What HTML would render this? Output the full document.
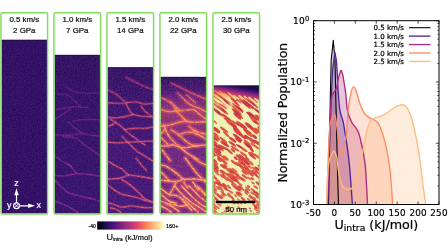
<!DOCTYPE html><html><head><meta charset="utf-8"><title>figure</title>
<style>html,body{margin:0;padding:0;background:#fff;}svg{display:block;}.a{font-family:"Liberation Sans",Arial,sans-serif;fill:#111;stroke:#111;stroke-width:0.22px;}.d{font-family:"DejaVu Sans","Liberation Sans",sans-serif;fill:#000;stroke:#000;stroke-width:0.2px;}</style></head><body>
<svg width="448" height="252" viewBox="0 0 448 252">
<defs>
<filter id="b3" x="-5%" y="-5%" width="110%" height="110%"><feGaussianBlur stdDeviation="0.7"/></filter>
<filter id="sk" x="-5%" y="-5%" width="110%" height="110%"><feGaussianBlur in="SourceGraphic" stdDeviation="0.5" result="b"/><feTurbulence type="fractalNoise" baseFrequency="0.5" numOctaves="2" seed="5" result="t"/><feColorMatrix in="t" type="matrix" values="0 0 0 0 1  0 0 0 0 1  0 0 0 0 1  1 0 0 0 0" result="n"/><feComposite in="b" in2="n" operator="arithmetic" k1="2.0" k2="0.0" k3="0" k4="0"/></filter>
<filter id="b5" x="-5%" y="-5%" width="110%" height="110%"><feGaussianBlur stdDeviation="0.6"/></filter>
<filter id="b7" x="-5%" y="-5%" width="110%" height="110%"><feGaussianBlur stdDeviation="0.7"/></filter>
<filter id="b8" x="-5%" y="-5%" width="110%" height="110%"><feGaussianBlur stdDeviation="0.8"/></filter>
<filter id="nz0" x="0" y="0" width="100%" height="100%"><feTurbulence type="fractalNoise" baseFrequency="0.75" numOctaves="2" seed="3"/><feColorMatrix type="matrix" values="0 0 0 0 0.33  0 0 0 0 0.10  0 0 0 0 0.56  2.0 0 0 0 -0.75"/><feGaussianBlur stdDeviation="0.4"/></filter>
<filter id="nz1" x="0" y="0" width="100%" height="100%"><feTurbulence type="fractalNoise" baseFrequency="0.75" numOctaves="2" seed="4"/><feColorMatrix type="matrix" values="0 0 0 0 0.37  0 0 0 0 0.11  0 0 0 0 0.58  2.0 0 0 0 -0.75"/><feGaussianBlur stdDeviation="0.4"/></filter>
<filter id="nz2" x="0" y="0" width="100%" height="100%"><feTurbulence type="fractalNoise" baseFrequency="0.75" numOctaves="2" seed="5"/><feColorMatrix type="matrix" values="0 0 0 0 0.50  0 0 0 0 0.17  0 0 0 0 0.60  2.0 0 0 0 -0.75"/><feGaussianBlur stdDeviation="0.4"/></filter>
<filter id="nz3" x="0" y="0" width="100%" height="100%"><feTurbulence type="fractalNoise" baseFrequency="0.75" numOctaves="2" seed="6"/><feColorMatrix type="matrix" values="0 0 0 0 0.66  0 0 0 0 0.25  0 0 0 0 0.56  2.0 0 0 0 -0.75"/><feGaussianBlur stdDeviation="0.4"/></filter>
<filter id="nzd" x="0" y="0" width="100%" height="100%"><feTurbulence type="fractalNoise" baseFrequency="0.8" numOctaves="2" seed="11"/><feColorMatrix type="matrix" values="0 0 0 0 0.08  0 0 0 0 0.02  0 0 0 0 0.22  0 2.0 0 0 -0.75"/><feGaussianBlur stdDeviation="0.4"/></filter>
<linearGradient id="mg" x1="0" x2="1" y1="0" y2="0"><stop offset="0.00" stop-color="#000003"/><stop offset="0.05" stop-color="#060519"/><stop offset="0.10" stop-color="#140d35"/><stop offset="0.15" stop-color="#251155"/><stop offset="0.20" stop-color="#3b0f6f"/><stop offset="0.25" stop-color="#50127b"/><stop offset="0.30" stop-color="#63197f"/><stop offset="0.35" stop-color="#772181"/><stop offset="0.40" stop-color="#8c2980"/><stop offset="0.45" stop-color="#a12f7e"/><stop offset="0.50" stop-color="#b63679"/><stop offset="0.55" stop-color="#ca3e72"/><stop offset="0.60" stop-color="#dd4968"/><stop offset="0.65" stop-color="#ed595f"/><stop offset="0.70" stop-color="#f6705b"/><stop offset="0.75" stop-color="#fb8861"/><stop offset="0.80" stop-color="#fd9f6c"/><stop offset="0.85" stop-color="#feb77d"/><stop offset="0.90" stop-color="#fdcf92"/><stop offset="0.95" stop-color="#fce6a8"/><stop offset="1.00" stop-color="#fbfcbf"/></linearGradient>
<linearGradient id="g2" x1="0" x2="0" y1="0" y2="1"><stop offset="0" stop-color="#2a0d5a"/><stop offset="1" stop-color="#301066"/></linearGradient>
<linearGradient id="g3" x1="0" x2="0" y1="0" y2="1"><stop offset="0" stop-color="#2a0d5a"/><stop offset="0.3" stop-color="#36106a"/><stop offset="1" stop-color="#401474"/></linearGradient>
<linearGradient id="g4" x1="0" x2="0" y1="0" y2="1"><stop offset="0" stop-color="#250e50"/><stop offset="0.095" stop-color="#43146e"/><stop offset="0.17" stop-color="#742678"/><stop offset="0.256" stop-color="#9c386e"/><stop offset="0.387" stop-color="#8a3074"/><stop offset="0.53" stop-color="#70267e"/><stop offset="1" stop-color="#7c2a7c"/></linearGradient>
<linearGradient id="g5" gradientUnits="userSpaceOnUse" x1="237" y1="85.5" x2="234.6" y2="98" ><stop offset="0" stop-color="#1d0c48"/><stop offset="0.18" stop-color="#35106a"/><stop offset="0.42" stop-color="#7a2282"/><stop offset="0.68" stop-color="#c03a6c"/><stop offset="1" stop-color="#d6443e"/></linearGradient>
<clipPath id="c1"><rect x="1.45" y="0" width="45.6" height="213.6"/></clipPath>
<clipPath id="c2"><rect x="54.45" y="0" width="45.6" height="213.6"/></clipPath>
<clipPath id="c3"><rect x="107.45" y="0" width="45.6" height="213.6"/></clipPath>
<clipPath id="c4"><rect x="160.45" y="0" width="45.6" height="213.6"/></clipPath>
<clipPath id="c5"><rect x="213.45" y="0" width="45.6" height="213.6"/></clipPath>
<linearGradient id="g5b" x1="0" x2="0" y1="0" y2="1"><stop offset="0" stop-color="#eef0b4" stop-opacity="0"/><stop offset="1" stop-color="#eef0b4"/></linearGradient>
<linearGradient id="s4" gradientUnits="userSpaceOnUse" x1="0" y1="78" x2="0" y2="214"><stop offset="0" stop-color="#a83078"/><stop offset="0.1" stop-color="#d04a6c"/><stop offset="0.2" stop-color="#f0845a"/><stop offset="0.5" stop-color="#f6965e"/><stop offset="1" stop-color="#f8a664"/></linearGradient>
<linearGradient id="s5" gradientUnits="userSpaceOnUse" x1="0" y1="89" x2="0" y2="108"><stop offset="0" stop-color="#d84a6a" stop-opacity="0.5"/><stop offset="0.22" stop-color="#f49a5e"/><stop offset="0.5" stop-color="#f6dc90"/><stop offset="0.8" stop-color="#f0efb0"/><stop offset="1" stop-color="#eef0b4"/></linearGradient>
<linearGradient id="s4g" gradientUnits="userSpaceOnUse" x1="0" y1="78" x2="0" y2="214"><stop offset="0" stop-color="#c04078" stop-opacity="0.25"/><stop offset="0.15" stop-color="#d84c6e" stop-opacity="0.55"/><stop offset="0.3" stop-color="#e4566a" stop-opacity="1"/><stop offset="1" stop-color="#e4566a" stop-opacity="1"/></linearGradient>
<linearGradient id="s3" gradientUnits="userSpaceOnUse" x1="0" y1="67" x2="0" y2="214"><stop offset="0" stop-color="#8a2a82"/><stop offset="0.12" stop-color="#a8347c"/><stop offset="0.3" stop-color="#cc5070"/><stop offset="1" stop-color="#dc5e6c"/></linearGradient>
<linearGradient id="s2" gradientUnits="userSpaceOnUse" x1="0" y1="55" x2="0" y2="214"><stop offset="0" stop-color="#6a2090" stop-opacity="0.5"/><stop offset="0.35" stop-color="#80288e" stop-opacity="0.8"/><stop offset="1" stop-color="#9a308c" stop-opacity="1"/></linearGradient>
</defs>
<rect width="448" height="252" fill="#fff"/>
<g clip-path="url(#c1)">
<rect x="1.4" y="39.8" width="46.2" height="174.2" fill="#280b5b"/>
<rect x="1.4" y="40.8" width="46.2" height="173.2" filter="url(#nz0)" opacity="0.22"/>
<rect x="1.4" y="40.8" width="46.2" height="173.2" filter="url(#nzd)" opacity="0.6"/>
<rect x="1.4" y="39.8" width="46.2" height="0.8" fill="#120830" opacity="0.7"/>
</g>
<rect x="0.95" y="12.7" width="46.65" height="201.4" rx="1.5" fill="none" stroke="#82dc5c" stroke-width="1.45"/>
<text class="a" x="24.3" y="21.8" font-size="7.9" text-anchor="middle">0.5 km/s</text>
<text class="a" x="24.3" y="32.5" font-size="7.9" text-anchor="middle">2 GPa</text>
<g clip-path="url(#c2)">
<rect x="54.5" y="54.9" width="46.2" height="159.1" fill="url(#g2)"/>
<rect x="54.5" y="55.9" width="46.2" height="158.1" filter="url(#nz1)" opacity="0.25"/>
<rect x="54.5" y="55.9" width="46.2" height="158.1" filter="url(#nzd)" opacity="0.6"/>
<g filter="url(#sk)"><path d="M62.70,85.10 C64.82,86.27 71.80,90.83 75.40,92.10 C79.00,93.37 80.28,92.50 84.30,92.70 C88.32,92.90 96.97,93.20 99.50,93.30" fill="none" stroke="url(#s2)" stroke-width="1.50" stroke-opacity="0.75" stroke-linecap="round"/><path d="M57.60,94.00 C59.30,94.20 64.83,93.93 67.80,95.20 C70.77,96.47 73.28,99.68 75.40,101.60 C77.52,103.52 78.40,105.75 80.50,106.70 C82.60,107.65 86.75,107.20 88.00,107.30" fill="none" stroke="url(#s2)" stroke-width="1.50" stroke-opacity="0.75" stroke-linecap="round"/><path d="M56.30,109.80 C58.42,109.38 64.97,107.82 69.00,107.30 C73.03,106.78 78.58,106.80 80.50,106.70" fill="none" stroke="url(#s2)" stroke-width="1.50" stroke-opacity="0.75" stroke-linecap="round"/><path d="M55.00,118.80 C56.28,118.05 60.15,115.88 62.70,114.30 C65.25,112.72 69.03,110.13 70.30,109.30" fill="none" stroke="url(#s2)" stroke-width="1.50" stroke-opacity="0.75" stroke-linecap="round"/><path d="M72.90,120.70 C75.02,120.48 81.17,119.52 85.60,119.40 C90.03,119.28 97.18,119.90 99.50,120.00" fill="none" stroke="url(#s2)" stroke-width="1.50" stroke-opacity="0.75" stroke-linecap="round"/><path d="M67.80,122.00 C69.07,123.05 72.87,126.40 75.40,128.30 C77.93,130.20 80.25,132.23 83.00,133.40 C85.75,134.57 89.15,134.87 91.90,135.30 C94.65,135.73 98.23,135.88 99.50,136.00" fill="none" stroke="url(#s2)" stroke-width="1.50" stroke-opacity="0.75" stroke-linecap="round"/><path d="M55.00,134.70 C57.33,134.80 64.33,135.52 69.00,135.30 C73.67,135.08 80.67,133.72 83.00,133.40" fill="none" stroke="url(#s2)" stroke-width="1.50" stroke-opacity="0.75" stroke-linecap="round"/><path d="M62.70,136.60 C64.82,136.82 72.02,136.73 75.40,137.90 C78.78,139.07 80.25,141.58 83.00,143.60 C85.75,145.62 89.15,148.10 91.90,150.00 C94.65,151.90 98.23,154.17 99.50,155.00" fill="none" stroke="url(#s2)" stroke-width="1.50" stroke-opacity="0.75" stroke-linecap="round"/><path d="M55.00,155.70 C56.28,156.65 59.93,159.60 62.70,161.40 C65.47,163.20 70.12,165.65 71.60,166.50" fill="none" stroke="url(#s2)" stroke-width="1.50" stroke-opacity="0.75" stroke-linecap="round"/><path d="M67.80,164.00 C68.65,164.83 71.32,167.42 72.90,169.00 C74.48,170.58 74.77,172.63 77.30,173.50 C79.83,174.37 84.40,173.78 88.10,174.20 C91.80,174.62 97.60,175.70 99.50,176.00" fill="none" stroke="url(#s2)" stroke-width="1.50" stroke-opacity="0.75" stroke-linecap="round"/><path d="M55.00,175.40 C56.50,175.50 60.28,176.32 64.00,176.00 C67.72,175.68 75.08,173.92 77.30,173.50" fill="none" stroke="url(#s2)" stroke-width="1.50" stroke-opacity="0.75" stroke-linecap="round"/><path d="M55.00,180.50 C56.28,181.75 60.37,185.92 62.70,188.00 C65.03,190.08 65.83,191.62 69.00,193.00 C72.17,194.38 77.88,195.33 81.70,196.30 C85.52,197.27 88.93,197.97 91.90,198.80 C94.87,199.63 98.23,200.88 99.50,201.30" fill="none" stroke="url(#s2)" stroke-width="1.50" stroke-opacity="0.75" stroke-linecap="round"/><path d="M55.00,201.30 C56.28,201.73 59.93,202.73 62.70,203.90 C65.47,205.07 69.05,206.82 71.60,208.30 C74.15,209.78 76.93,212.05 78.00,212.80" fill="none" stroke="url(#s2)" stroke-width="1.50" stroke-opacity="0.75" stroke-linecap="round"/></g>
<rect x="54.5" y="54.9" width="46.2" height="0.8" fill="#120830" opacity="0.7"/>
</g>
<rect x="53.95" y="12.7" width="46.65" height="201.4" rx="1.5" fill="none" stroke="#82dc5c" stroke-width="1.45"/>
<text class="a" x="77.3" y="21.8" font-size="7.9" text-anchor="middle">1.0 km/s</text>
<text class="a" x="77.3" y="32.5" font-size="7.9" text-anchor="middle">7 GPa</text>
<g clip-path="url(#c3)">
<rect x="107.5" y="67.3" width="46.2" height="146.7" fill="url(#g3)"/>
<rect x="107.5" y="68.3" width="46.2" height="145.7" filter="url(#nz2)" opacity="0.30"/>
<rect x="107.5" y="68.3" width="46.2" height="145.7" filter="url(#nzd)" opacity="0.6"/>
<g filter="url(#b5)"><path d="M125.90,77.30 C127.37,78.05 131.75,80.32 134.70,81.80 C137.65,83.28 140.63,84.93 143.60,86.20 C146.57,87.47 151.02,88.87 152.50,89.40" fill="none" stroke="#a03080" stroke-width="3.20" stroke-opacity="0.30" stroke-linecap="round"/><path d="M108.00,90.00 C109.07,90.53 112.48,92.03 114.40,93.20 C116.32,94.37 117.70,95.50 119.50,97.00 C121.30,98.50 123.72,100.28 125.20,102.20 C126.68,104.12 127.13,106.50 128.40,108.50 C129.67,110.50 130.68,112.93 132.80,114.20 C134.92,115.47 137.82,115.67 141.10,116.10 C144.38,116.53 150.60,116.68 152.50,116.80" fill="none" stroke="#a03080" stroke-width="3.20" stroke-opacity="0.30" stroke-linecap="round"/><path d="M108.00,102.80 C109.70,102.90 115.33,103.40 118.20,103.40 C121.07,103.40 122.23,103.05 125.20,102.80 C128.17,102.55 132.93,101.70 136.00,101.90 C139.07,102.10 140.85,103.75 143.60,104.00 C146.35,104.25 151.02,103.50 152.50,103.40" fill="none" stroke="#a03080" stroke-width="3.20" stroke-opacity="0.30" stroke-linecap="round"/><path d="M141.10,106.60 C141.95,107.55 144.30,110.60 146.20,112.30 C148.10,114.00 151.45,116.05 152.50,116.80" fill="none" stroke="#a03080" stroke-width="3.20" stroke-opacity="0.30" stroke-linecap="round"/><path d="M108.00,117.40 C109.28,117.50 112.93,118.10 115.70,118.00 C118.47,117.90 121.75,117.37 124.60,116.80 C127.45,116.23 131.43,114.97 132.80,114.60" fill="none" stroke="#a03080" stroke-width="3.20" stroke-opacity="0.30" stroke-linecap="round"/><path d="M110.60,119.30 C111.45,119.83 114.22,121.55 115.70,122.50 C117.18,123.45 118.02,123.83 119.50,125.00 C120.98,126.17 122.90,128.00 124.60,129.50 C126.30,131.00 128.02,132.62 129.70,134.00 C131.38,135.38 133.02,136.53 134.70,137.80 C136.38,139.07 138.10,140.43 139.80,141.60 C141.50,142.77 144.05,144.27 144.90,144.80" fill="none" stroke="#a03080" stroke-width="3.20" stroke-opacity="0.30" stroke-linecap="round"/><path d="M108.00,126.30 C108.87,125.98 111.92,125.12 113.20,124.40 C114.48,123.68 115.28,122.40 115.70,122.00" fill="none" stroke="#a03080" stroke-width="3.20" stroke-opacity="0.30" stroke-linecap="round"/><path d="M124.60,129.50 C126.28,129.30 131.32,128.50 134.70,128.30 C138.08,128.10 141.93,128.52 144.90,128.30 C147.87,128.08 151.23,127.22 152.50,127.00" fill="none" stroke="#a03080" stroke-width="3.20" stroke-opacity="0.30" stroke-linecap="round"/><path d="M108.00,142.20 C109.70,142.32 114.80,142.90 118.20,142.90 C121.60,142.90 124.80,142.42 128.40,142.20 C132.00,141.98 135.78,141.80 139.80,141.60 C143.82,141.40 150.38,141.10 152.50,141.00" fill="none" stroke="#a03080" stroke-width="3.20" stroke-opacity="0.30" stroke-linecap="round"/><path d="M122.00,136.50 C122.85,137.35 125.40,139.90 127.10,141.60 C128.80,143.30 130.50,145.02 132.20,146.70 C133.90,148.38 136.03,150.65 137.30,151.70 C138.57,152.75 138.32,152.13 139.80,153.00 C141.28,153.87 144.08,155.62 146.20,156.90 C148.32,158.18 151.45,160.07 152.50,160.70" fill="none" stroke="#a03080" stroke-width="3.20" stroke-opacity="0.30" stroke-linecap="round"/><path d="M108.00,161.30 C109.07,161.93 112.07,163.82 114.40,165.10 C116.73,166.38 119.67,167.40 122.00,169.00 C124.33,170.60 126.07,173.55 128.40,174.70 C130.73,175.85 133.25,175.48 136.00,175.90 C138.75,176.32 142.15,176.77 144.90,177.20 C147.65,177.63 151.23,178.28 152.50,178.50" fill="none" stroke="#a03080" stroke-width="3.20" stroke-opacity="0.30" stroke-linecap="round"/><path d="M136.00,158.20 C136.85,159.25 139.40,162.50 141.10,164.50 C142.80,166.50 145.35,169.25 146.20,170.20" fill="none" stroke="#a03080" stroke-width="3.20" stroke-opacity="0.30" stroke-linecap="round"/><path d="M108.00,179.00 C109.70,178.92 114.80,179.12 118.20,178.50 C121.60,177.88 126.70,175.83 128.40,175.30" fill="none" stroke="#a03080" stroke-width="3.20" stroke-opacity="0.30" stroke-linecap="round"/><path d="M122.00,179.80 C123.07,180.43 126.07,181.90 128.40,183.60 C130.73,185.30 133.88,188.10 136.00,190.00 C138.12,191.90 139.62,193.52 141.10,195.00 C142.58,196.48 143.00,197.73 144.90,198.90 C146.80,200.07 151.23,201.48 152.50,202.00" fill="none" stroke="#a03080" stroke-width="3.20" stroke-opacity="0.30" stroke-linecap="round"/><path d="M108.00,184.90 C109.07,185.75 112.27,188.52 114.40,190.00 C116.53,191.48 118.47,192.85 120.80,193.80 C123.13,194.75 125.65,195.05 128.40,195.70 C131.15,196.35 134.55,196.93 137.30,197.70 C140.05,198.47 142.37,199.55 144.90,200.30 C147.43,201.05 151.23,201.88 152.50,202.20" fill="none" stroke="#a03080" stroke-width="3.20" stroke-opacity="0.30" stroke-linecap="round"/><path d="M108.00,202.80 C109.07,203.12 112.07,203.97 114.40,204.70 C116.73,205.43 119.23,206.98 122.00,207.20 C124.77,207.42 127.82,206.00 131.00,206.00 C134.18,206.00 137.52,206.88 141.10,207.20 C144.68,207.52 150.60,207.78 152.50,207.90" fill="none" stroke="#a03080" stroke-width="3.20" stroke-opacity="0.30" stroke-linecap="round"/><path d="M110.60,207.90 C111.45,208.10 114.00,208.37 115.70,209.10 C117.40,209.83 119.95,211.77 120.80,212.30" fill="none" stroke="#a03080" stroke-width="3.20" stroke-opacity="0.30" stroke-linecap="round"/></g>
<g filter="url(#sk)"><path d="M125.90,77.30 C127.37,78.05 131.75,80.32 134.70,81.80 C137.65,83.28 140.63,84.93 143.60,86.20 C146.57,87.47 151.02,88.87 152.50,89.40" fill="none" stroke="url(#s3)" stroke-width="1.40" stroke-opacity="0.80" stroke-linecap="round"/><path d="M108.00,90.00 C109.07,90.53 112.48,92.03 114.40,93.20 C116.32,94.37 117.70,95.50 119.50,97.00 C121.30,98.50 123.72,100.28 125.20,102.20 C126.68,104.12 127.13,106.50 128.40,108.50 C129.67,110.50 130.68,112.93 132.80,114.20 C134.92,115.47 137.82,115.67 141.10,116.10 C144.38,116.53 150.60,116.68 152.50,116.80" fill="none" stroke="url(#s3)" stroke-width="1.40" stroke-opacity="0.80" stroke-linecap="round"/><path d="M108.00,102.80 C109.70,102.90 115.33,103.40 118.20,103.40 C121.07,103.40 122.23,103.05 125.20,102.80 C128.17,102.55 132.93,101.70 136.00,101.90 C139.07,102.10 140.85,103.75 143.60,104.00 C146.35,104.25 151.02,103.50 152.50,103.40" fill="none" stroke="url(#s3)" stroke-width="1.40" stroke-opacity="0.80" stroke-linecap="round"/><path d="M141.10,106.60 C141.95,107.55 144.30,110.60 146.20,112.30 C148.10,114.00 151.45,116.05 152.50,116.80" fill="none" stroke="url(#s3)" stroke-width="1.40" stroke-opacity="0.80" stroke-linecap="round"/><path d="M108.00,117.40 C109.28,117.50 112.93,118.10 115.70,118.00 C118.47,117.90 121.75,117.37 124.60,116.80 C127.45,116.23 131.43,114.97 132.80,114.60" fill="none" stroke="url(#s3)" stroke-width="1.40" stroke-opacity="0.80" stroke-linecap="round"/><path d="M110.60,119.30 C111.45,119.83 114.22,121.55 115.70,122.50 C117.18,123.45 118.02,123.83 119.50,125.00 C120.98,126.17 122.90,128.00 124.60,129.50 C126.30,131.00 128.02,132.62 129.70,134.00 C131.38,135.38 133.02,136.53 134.70,137.80 C136.38,139.07 138.10,140.43 139.80,141.60 C141.50,142.77 144.05,144.27 144.90,144.80" fill="none" stroke="url(#s3)" stroke-width="1.40" stroke-opacity="0.80" stroke-linecap="round"/><path d="M108.00,126.30 C108.87,125.98 111.92,125.12 113.20,124.40 C114.48,123.68 115.28,122.40 115.70,122.00" fill="none" stroke="url(#s3)" stroke-width="1.40" stroke-opacity="0.80" stroke-linecap="round"/><path d="M124.60,129.50 C126.28,129.30 131.32,128.50 134.70,128.30 C138.08,128.10 141.93,128.52 144.90,128.30 C147.87,128.08 151.23,127.22 152.50,127.00" fill="none" stroke="url(#s3)" stroke-width="1.40" stroke-opacity="0.80" stroke-linecap="round"/><path d="M108.00,142.20 C109.70,142.32 114.80,142.90 118.20,142.90 C121.60,142.90 124.80,142.42 128.40,142.20 C132.00,141.98 135.78,141.80 139.80,141.60 C143.82,141.40 150.38,141.10 152.50,141.00" fill="none" stroke="url(#s3)" stroke-width="1.40" stroke-opacity="0.80" stroke-linecap="round"/><path d="M122.00,136.50 C122.85,137.35 125.40,139.90 127.10,141.60 C128.80,143.30 130.50,145.02 132.20,146.70 C133.90,148.38 136.03,150.65 137.30,151.70 C138.57,152.75 138.32,152.13 139.80,153.00 C141.28,153.87 144.08,155.62 146.20,156.90 C148.32,158.18 151.45,160.07 152.50,160.70" fill="none" stroke="url(#s3)" stroke-width="1.40" stroke-opacity="0.80" stroke-linecap="round"/><path d="M108.00,161.30 C109.07,161.93 112.07,163.82 114.40,165.10 C116.73,166.38 119.67,167.40 122.00,169.00 C124.33,170.60 126.07,173.55 128.40,174.70 C130.73,175.85 133.25,175.48 136.00,175.90 C138.75,176.32 142.15,176.77 144.90,177.20 C147.65,177.63 151.23,178.28 152.50,178.50" fill="none" stroke="url(#s3)" stroke-width="1.40" stroke-opacity="0.80" stroke-linecap="round"/><path d="M136.00,158.20 C136.85,159.25 139.40,162.50 141.10,164.50 C142.80,166.50 145.35,169.25 146.20,170.20" fill="none" stroke="url(#s3)" stroke-width="1.40" stroke-opacity="0.80" stroke-linecap="round"/><path d="M108.00,179.00 C109.70,178.92 114.80,179.12 118.20,178.50 C121.60,177.88 126.70,175.83 128.40,175.30" fill="none" stroke="url(#s3)" stroke-width="1.40" stroke-opacity="0.80" stroke-linecap="round"/><path d="M122.00,179.80 C123.07,180.43 126.07,181.90 128.40,183.60 C130.73,185.30 133.88,188.10 136.00,190.00 C138.12,191.90 139.62,193.52 141.10,195.00 C142.58,196.48 143.00,197.73 144.90,198.90 C146.80,200.07 151.23,201.48 152.50,202.00" fill="none" stroke="url(#s3)" stroke-width="1.40" stroke-opacity="0.80" stroke-linecap="round"/><path d="M108.00,184.90 C109.07,185.75 112.27,188.52 114.40,190.00 C116.53,191.48 118.47,192.85 120.80,193.80 C123.13,194.75 125.65,195.05 128.40,195.70 C131.15,196.35 134.55,196.93 137.30,197.70 C140.05,198.47 142.37,199.55 144.90,200.30 C147.43,201.05 151.23,201.88 152.50,202.20" fill="none" stroke="url(#s3)" stroke-width="1.40" stroke-opacity="0.80" stroke-linecap="round"/><path d="M108.00,202.80 C109.07,203.12 112.07,203.97 114.40,204.70 C116.73,205.43 119.23,206.98 122.00,207.20 C124.77,207.42 127.82,206.00 131.00,206.00 C134.18,206.00 137.52,206.88 141.10,207.20 C144.68,207.52 150.60,207.78 152.50,207.90" fill="none" stroke="url(#s3)" stroke-width="1.40" stroke-opacity="0.80" stroke-linecap="round"/><path d="M110.60,207.90 C111.45,208.10 114.00,208.37 115.70,209.10 C117.40,209.83 119.95,211.77 120.80,212.30" fill="none" stroke="url(#s3)" stroke-width="1.40" stroke-opacity="0.80" stroke-linecap="round"/></g>
<rect x="107.5" y="67.3" width="46.2" height="0.8" fill="#120830" opacity="0.7"/>
</g>
<rect x="106.95" y="12.7" width="46.65" height="201.4" rx="1.5" fill="none" stroke="#82dc5c" stroke-width="1.45"/>
<text class="a" x="130.3" y="21.8" font-size="7.9" text-anchor="middle">1.5 km/s</text>
<text class="a" x="130.3" y="32.5" font-size="7.9" text-anchor="middle">14 GPa</text>
<g clip-path="url(#c4)">
<rect x="160.4" y="76.9" width="46.2" height="137.1" fill="url(#g4)"/>
<rect x="160.4" y="77.9" width="46.2" height="136.1" filter="url(#nz3)" opacity="0.30"/>
<rect x="160.4" y="77.9" width="46.2" height="136.1" filter="url(#nzd)" opacity="0.6"/>
<g filter="url(#b5)"><path d="M171.20,82.90 C172.90,83.75 178.00,86.32 181.40,88.00 C184.80,89.68 188.63,91.63 191.60,93.00 C194.57,94.37 196.88,95.23 199.20,96.20 C201.52,97.17 204.45,98.37 205.50,98.80" fill="none" stroke="url(#s4g)" stroke-width="5.00" stroke-opacity="0.45" stroke-linecap="round"/><path d="M177.60,93.00 C178.45,93.85 181.02,96.50 182.70,98.10 C184.38,99.70 186.87,101.85 187.70,102.60" fill="none" stroke="url(#s4g)" stroke-width="5.00" stroke-opacity="0.45" stroke-linecap="round"/><path d="M186.50,95.00 C187.35,95.73 190.12,98.13 191.60,99.40 C193.08,100.67 194.77,102.07 195.40,102.60" fill="none" stroke="url(#s4g)" stroke-width="5.00" stroke-opacity="0.45" stroke-linecap="round"/><path d="M161.00,97.50 C161.87,97.92 164.28,98.95 166.20,100.00 C168.12,101.05 170.82,101.98 172.50,103.80 C174.18,105.62 174.82,108.87 176.30,110.90 C177.78,112.93 179.70,114.32 181.40,116.00 C183.10,117.68 184.38,119.95 186.50,121.00 C188.62,122.05 190.93,122.18 194.10,122.30 C197.27,122.42 203.60,121.80 205.50,121.70" fill="none" stroke="url(#s4g)" stroke-width="5.00" stroke-opacity="0.45" stroke-linecap="round"/><path d="M161.00,109.60 C162.28,109.92 166.15,111.25 168.70,111.50 C171.25,111.75 173.55,111.30 176.30,111.10 C179.05,110.90 182.45,110.55 185.20,110.30 C187.95,110.05 190.68,109.18 192.80,109.60 C194.92,110.02 195.78,111.32 197.90,112.80 C200.02,114.28 204.23,117.55 205.50,118.50" fill="none" stroke="url(#s4g)" stroke-width="5.00" stroke-opacity="0.45" stroke-linecap="round"/><path d="M170.00,102.00 C170.83,102.73 173.52,105.13 175.00,106.40 C176.48,107.67 178.25,109.07 178.90,109.60" fill="none" stroke="url(#s4g)" stroke-width="5.00" stroke-opacity="0.45" stroke-linecap="round"/><path d="M186.50,102.00 C187.55,102.63 190.68,104.75 192.80,105.80 C194.92,106.85 197.08,107.35 199.20,108.30 C201.32,109.25 204.45,110.97 205.50,111.50" fill="none" stroke="url(#s4g)" stroke-width="5.00" stroke-opacity="0.45" stroke-linecap="round"/><path d="M161.00,126.10 C161.87,126.00 164.28,125.82 166.20,125.50 C168.12,125.18 170.38,124.73 172.50,124.20 C174.62,123.67 176.57,122.83 178.90,122.30 C181.23,121.77 185.23,121.22 186.50,121.00" fill="none" stroke="url(#s4g)" stroke-width="5.00" stroke-opacity="0.45" stroke-linecap="round"/><path d="M163.60,124.90 C164.03,125.97 165.13,129.18 166.20,131.30 C167.27,133.42 168.53,135.70 170.00,137.60 C171.47,139.50 173.32,141.12 175.00,142.70 C176.68,144.28 178.40,145.62 180.10,147.10 C181.80,148.58 183.28,150.12 185.20,151.60 C187.12,153.08 189.48,154.63 191.60,156.00 C193.72,157.37 196.85,159.17 197.90,159.80" fill="none" stroke="url(#s4g)" stroke-width="5.00" stroke-opacity="0.45" stroke-linecap="round"/><path d="M161.00,133.70 C161.65,132.97 164.25,130.03 164.90,129.30" fill="none" stroke="url(#s4g)" stroke-width="5.00" stroke-opacity="0.45" stroke-linecap="round"/><path d="M189.00,126.10 C189.85,126.95 192.83,129.93 194.10,131.20 C195.37,132.47 196.18,133.28 196.60,133.70" fill="none" stroke="url(#s4g)" stroke-width="5.00" stroke-opacity="0.45" stroke-linecap="round"/><path d="M171.20,130.00 C172.27,130.63 175.68,132.42 177.60,133.80 C179.52,135.18 181.02,136.82 182.70,138.30 C184.38,139.78 186.02,141.55 187.70,142.70 C189.38,143.85 191.10,144.67 192.80,145.20 C194.50,145.73 197.05,145.78 197.90,145.90" fill="none" stroke="url(#s4g)" stroke-width="5.00" stroke-opacity="0.45" stroke-linecap="round"/><path d="M178.90,135.00 C179.95,134.58 182.88,132.92 185.20,132.50 C187.52,132.08 190.47,132.08 192.80,132.50 C195.13,132.92 197.08,133.93 199.20,135.00 C201.32,136.07 204.45,138.25 205.50,138.90" fill="none" stroke="url(#s4g)" stroke-width="5.00" stroke-opacity="0.45" stroke-linecap="round"/><path d="M161.00,145.90 C162.07,145.90 165.48,146.05 167.40,145.90 C169.32,145.75 170.38,144.80 172.50,145.00 C174.62,145.20 177.77,146.63 180.10,147.10 C182.43,147.57 184.17,148.00 186.50,147.80 C188.83,147.60 190.93,146.33 194.10,145.90 C197.27,145.47 203.60,145.32 205.50,145.20" fill="none" stroke="url(#s4g)" stroke-width="5.00" stroke-opacity="0.45" stroke-linecap="round"/><path d="M161.00,137.60 C161.65,138.23 163.62,140.13 164.90,141.40 C166.18,142.67 168.07,144.57 168.70,145.20" fill="none" stroke="url(#s4g)" stroke-width="5.00" stroke-opacity="0.45" stroke-linecap="round"/><path d="M162.30,150.30 C162.95,151.15 164.92,153.70 166.20,155.40 C167.48,157.10 169.37,159.65 170.00,160.50" fill="none" stroke="url(#s4g)" stroke-width="5.00" stroke-opacity="0.45" stroke-linecap="round"/><path d="M194.00,130.00 C194.83,130.42 197.08,131.83 199.00,132.50 C200.92,133.17 204.42,133.75 205.50,134.00" fill="none" stroke="url(#s4g)" stroke-width="5.00" stroke-opacity="0.45" stroke-linecap="round"/><path d="M185.20,158.00 C185.83,158.83 187.73,161.30 189.00,163.00 C190.27,164.70 191.53,166.50 192.80,168.20 C194.07,169.90 195.33,171.73 196.60,173.20 C197.87,174.67 198.92,175.53 200.40,177.00 C201.88,178.47 204.65,181.17 205.50,182.00" fill="none" stroke="url(#s4g)" stroke-width="5.00" stroke-opacity="0.45" stroke-linecap="round"/><path d="M194.10,158.00 C194.95,158.63 197.30,160.63 199.20,161.80 C201.10,162.97 204.45,164.47 205.50,165.00" fill="none" stroke="url(#s4g)" stroke-width="5.00" stroke-opacity="0.45" stroke-linecap="round"/><path d="M161.00,165.00 C161.87,165.22 164.50,165.57 166.20,166.30 C167.90,167.03 169.52,168.25 171.20,169.40 C172.88,170.55 174.60,171.82 176.30,173.20 C178.00,174.58 180.12,176.63 181.40,177.70 C182.68,178.77 183.57,179.28 184.00,179.60" fill="none" stroke="url(#s4g)" stroke-width="5.00" stroke-opacity="0.45" stroke-linecap="round"/><path d="M161.00,180.20 C162.28,180.32 166.15,180.68 168.70,180.90 C171.25,181.12 173.75,181.72 176.30,181.50 C178.85,181.28 181.25,180.02 184.00,179.60 C186.75,179.18 190.27,179.00 192.80,179.00 C195.33,179.00 197.08,179.40 199.20,179.60 C201.32,179.80 204.45,180.10 205.50,180.20" fill="none" stroke="url(#s4g)" stroke-width="5.00" stroke-opacity="0.45" stroke-linecap="round"/><path d="M176.30,181.50 C175.88,182.45 174.65,185.50 173.80,187.20 C172.95,188.90 171.83,190.42 171.20,191.70 C170.57,192.98 170.20,194.37 170.00,194.90" fill="none" stroke="url(#s4g)" stroke-width="5.00" stroke-opacity="0.45" stroke-linecap="round"/><path d="M184.00,182.80 C184.62,183.63 187.08,186.97 187.70,187.80" fill="none" stroke="url(#s4g)" stroke-width="5.00" stroke-opacity="0.45" stroke-linecap="round"/><path d="M192.80,182.00 C193.65,183.28 197.05,188.42 197.90,189.70" fill="none" stroke="url(#s4g)" stroke-width="5.00" stroke-opacity="0.45" stroke-linecap="round"/><path d="M161.00,188.50 C161.65,189.03 163.40,190.63 164.90,191.70 C166.40,192.77 168.10,194.27 170.00,194.90 C171.90,195.53 174.40,194.87 176.30,195.50 C178.20,196.13 179.70,197.12 181.40,198.70 C183.10,200.28 184.80,203.12 186.50,205.00 C188.20,206.88 190.75,209.17 191.60,210.00" fill="none" stroke="url(#s4g)" stroke-width="5.00" stroke-opacity="0.45" stroke-linecap="round"/><path d="M175.00,186.00 C175.85,187.05 178.40,190.40 180.10,192.30 C181.80,194.20 183.28,195.70 185.20,197.40 C187.12,199.10 189.48,201.02 191.60,202.50 C193.72,203.98 195.58,204.82 197.90,206.30 C200.22,207.78 204.23,210.55 205.50,211.40" fill="none" stroke="url(#s4g)" stroke-width="5.00" stroke-opacity="0.45" stroke-linecap="round"/><path d="M181.40,186.00 C182.45,187.05 185.58,190.18 187.70,192.30 C189.82,194.42 191.98,196.78 194.10,198.70 C196.22,200.62 198.50,202.42 200.40,203.80 C202.30,205.18 204.65,206.47 205.50,207.00" fill="none" stroke="url(#s4g)" stroke-width="5.00" stroke-opacity="0.45" stroke-linecap="round"/><path d="M189.00,186.00 C190.07,187.05 193.50,190.40 195.40,192.30 C197.30,194.20 198.72,195.92 200.40,197.40 C202.08,198.88 204.65,200.57 205.50,201.20" fill="none" stroke="url(#s4g)" stroke-width="5.00" stroke-opacity="0.45" stroke-linecap="round"/><path d="M196.60,186.00 C197.45,186.83 200.22,189.52 201.70,191.00 C203.18,192.48 204.87,194.25 205.50,194.90" fill="none" stroke="url(#s4g)" stroke-width="5.00" stroke-opacity="0.45" stroke-linecap="round"/><path d="M161.00,201.20 C162.07,201.63 165.27,202.73 167.40,203.80 C169.53,204.87 171.88,206.33 173.80,207.60 C175.72,208.87 178.05,210.77 178.90,211.40" fill="none" stroke="url(#s4g)" stroke-width="5.00" stroke-opacity="0.45" stroke-linecap="round"/><path d="M161.00,206.00 C161.83,206.42 164.33,207.50 166.00,208.50 C167.67,209.50 170.17,211.42 171.00,212.00" fill="none" stroke="url(#s4g)" stroke-width="5.00" stroke-opacity="0.45" stroke-linecap="round"/><path d="M167.40,203.80 C168.67,204.00 172.67,204.58 175.00,205.00 C177.33,205.42 179.28,206.30 181.40,206.30 C183.52,206.30 186.65,205.22 187.70,205.00" fill="none" stroke="url(#s4g)" stroke-width="5.00" stroke-opacity="0.45" stroke-linecap="round"/><path d="M161.00,194.00 C161.67,194.67 163.50,196.75 165.00,198.00 C166.50,199.25 168.17,200.67 170.00,201.50 C171.83,202.33 175.00,202.75 176.00,203.00" fill="none" stroke="url(#s4g)" stroke-width="5.00" stroke-opacity="0.45" stroke-linecap="round"/><path d="M183.00,199.00 C183.83,199.67 186.33,201.58 188.00,203.00 C189.67,204.42 191.33,206.00 193.00,207.50 C194.67,209.00 197.17,211.25 198.00,212.00" fill="none" stroke="url(#s4g)" stroke-width="5.00" stroke-opacity="0.45" stroke-linecap="round"/><path d="M199.00,188.00 C199.67,188.67 201.92,190.83 203.00,192.00 C204.08,193.17 205.08,194.50 205.50,195.00" fill="none" stroke="url(#s4g)" stroke-width="5.00" stroke-opacity="0.45" stroke-linecap="round"/><path d="M161.00,172.00 C161.67,172.67 163.67,174.58 165.00,176.00 C166.33,177.42 168.33,179.75 169.00,180.50" fill="none" stroke="url(#s4g)" stroke-width="5.00" stroke-opacity="0.45" stroke-linecap="round"/></g>
<g filter="url(#sk)"><path d="M171.20,82.90 C172.90,83.75 178.00,86.32 181.40,88.00 C184.80,89.68 188.63,91.63 191.60,93.00 C194.57,94.37 196.88,95.23 199.20,96.20 C201.52,97.17 204.45,98.37 205.50,98.80" fill="none" stroke="url(#s4)" stroke-width="1.50" stroke-opacity="0.95" stroke-linecap="round"/><path d="M177.60,93.00 C178.45,93.85 181.02,96.50 182.70,98.10 C184.38,99.70 186.87,101.85 187.70,102.60" fill="none" stroke="url(#s4)" stroke-width="1.50" stroke-opacity="0.95" stroke-linecap="round"/><path d="M186.50,95.00 C187.35,95.73 190.12,98.13 191.60,99.40 C193.08,100.67 194.77,102.07 195.40,102.60" fill="none" stroke="url(#s4)" stroke-width="1.50" stroke-opacity="0.95" stroke-linecap="round"/><path d="M161.00,97.50 C161.87,97.92 164.28,98.95 166.20,100.00 C168.12,101.05 170.82,101.98 172.50,103.80 C174.18,105.62 174.82,108.87 176.30,110.90 C177.78,112.93 179.70,114.32 181.40,116.00 C183.10,117.68 184.38,119.95 186.50,121.00 C188.62,122.05 190.93,122.18 194.10,122.30 C197.27,122.42 203.60,121.80 205.50,121.70" fill="none" stroke="url(#s4)" stroke-width="1.50" stroke-opacity="0.95" stroke-linecap="round"/><path d="M161.00,109.60 C162.28,109.92 166.15,111.25 168.70,111.50 C171.25,111.75 173.55,111.30 176.30,111.10 C179.05,110.90 182.45,110.55 185.20,110.30 C187.95,110.05 190.68,109.18 192.80,109.60 C194.92,110.02 195.78,111.32 197.90,112.80 C200.02,114.28 204.23,117.55 205.50,118.50" fill="none" stroke="url(#s4)" stroke-width="1.50" stroke-opacity="0.95" stroke-linecap="round"/><path d="M170.00,102.00 C170.83,102.73 173.52,105.13 175.00,106.40 C176.48,107.67 178.25,109.07 178.90,109.60" fill="none" stroke="url(#s4)" stroke-width="1.50" stroke-opacity="0.95" stroke-linecap="round"/><path d="M186.50,102.00 C187.55,102.63 190.68,104.75 192.80,105.80 C194.92,106.85 197.08,107.35 199.20,108.30 C201.32,109.25 204.45,110.97 205.50,111.50" fill="none" stroke="url(#s4)" stroke-width="1.50" stroke-opacity="0.95" stroke-linecap="round"/><path d="M161.00,126.10 C161.87,126.00 164.28,125.82 166.20,125.50 C168.12,125.18 170.38,124.73 172.50,124.20 C174.62,123.67 176.57,122.83 178.90,122.30 C181.23,121.77 185.23,121.22 186.50,121.00" fill="none" stroke="url(#s4)" stroke-width="1.50" stroke-opacity="0.95" stroke-linecap="round"/><path d="M163.60,124.90 C164.03,125.97 165.13,129.18 166.20,131.30 C167.27,133.42 168.53,135.70 170.00,137.60 C171.47,139.50 173.32,141.12 175.00,142.70 C176.68,144.28 178.40,145.62 180.10,147.10 C181.80,148.58 183.28,150.12 185.20,151.60 C187.12,153.08 189.48,154.63 191.60,156.00 C193.72,157.37 196.85,159.17 197.90,159.80" fill="none" stroke="url(#s4)" stroke-width="1.50" stroke-opacity="0.95" stroke-linecap="round"/><path d="M161.00,133.70 C161.65,132.97 164.25,130.03 164.90,129.30" fill="none" stroke="url(#s4)" stroke-width="1.50" stroke-opacity="0.95" stroke-linecap="round"/><path d="M189.00,126.10 C189.85,126.95 192.83,129.93 194.10,131.20 C195.37,132.47 196.18,133.28 196.60,133.70" fill="none" stroke="url(#s4)" stroke-width="1.50" stroke-opacity="0.95" stroke-linecap="round"/><path d="M171.20,130.00 C172.27,130.63 175.68,132.42 177.60,133.80 C179.52,135.18 181.02,136.82 182.70,138.30 C184.38,139.78 186.02,141.55 187.70,142.70 C189.38,143.85 191.10,144.67 192.80,145.20 C194.50,145.73 197.05,145.78 197.90,145.90" fill="none" stroke="url(#s4)" stroke-width="1.50" stroke-opacity="0.95" stroke-linecap="round"/><path d="M178.90,135.00 C179.95,134.58 182.88,132.92 185.20,132.50 C187.52,132.08 190.47,132.08 192.80,132.50 C195.13,132.92 197.08,133.93 199.20,135.00 C201.32,136.07 204.45,138.25 205.50,138.90" fill="none" stroke="url(#s4)" stroke-width="1.50" stroke-opacity="0.95" stroke-linecap="round"/><path d="M161.00,145.90 C162.07,145.90 165.48,146.05 167.40,145.90 C169.32,145.75 170.38,144.80 172.50,145.00 C174.62,145.20 177.77,146.63 180.10,147.10 C182.43,147.57 184.17,148.00 186.50,147.80 C188.83,147.60 190.93,146.33 194.10,145.90 C197.27,145.47 203.60,145.32 205.50,145.20" fill="none" stroke="url(#s4)" stroke-width="1.50" stroke-opacity="0.95" stroke-linecap="round"/><path d="M161.00,137.60 C161.65,138.23 163.62,140.13 164.90,141.40 C166.18,142.67 168.07,144.57 168.70,145.20" fill="none" stroke="url(#s4)" stroke-width="1.50" stroke-opacity="0.95" stroke-linecap="round"/><path d="M162.30,150.30 C162.95,151.15 164.92,153.70 166.20,155.40 C167.48,157.10 169.37,159.65 170.00,160.50" fill="none" stroke="url(#s4)" stroke-width="1.50" stroke-opacity="0.95" stroke-linecap="round"/><path d="M194.00,130.00 C194.83,130.42 197.08,131.83 199.00,132.50 C200.92,133.17 204.42,133.75 205.50,134.00" fill="none" stroke="url(#s4)" stroke-width="1.50" stroke-opacity="0.95" stroke-linecap="round"/><path d="M185.20,158.00 C185.83,158.83 187.73,161.30 189.00,163.00 C190.27,164.70 191.53,166.50 192.80,168.20 C194.07,169.90 195.33,171.73 196.60,173.20 C197.87,174.67 198.92,175.53 200.40,177.00 C201.88,178.47 204.65,181.17 205.50,182.00" fill="none" stroke="url(#s4)" stroke-width="1.50" stroke-opacity="0.95" stroke-linecap="round"/><path d="M194.10,158.00 C194.95,158.63 197.30,160.63 199.20,161.80 C201.10,162.97 204.45,164.47 205.50,165.00" fill="none" stroke="url(#s4)" stroke-width="1.50" stroke-opacity="0.95" stroke-linecap="round"/><path d="M161.00,165.00 C161.87,165.22 164.50,165.57 166.20,166.30 C167.90,167.03 169.52,168.25 171.20,169.40 C172.88,170.55 174.60,171.82 176.30,173.20 C178.00,174.58 180.12,176.63 181.40,177.70 C182.68,178.77 183.57,179.28 184.00,179.60" fill="none" stroke="url(#s4)" stroke-width="1.50" stroke-opacity="0.95" stroke-linecap="round"/><path d="M161.00,180.20 C162.28,180.32 166.15,180.68 168.70,180.90 C171.25,181.12 173.75,181.72 176.30,181.50 C178.85,181.28 181.25,180.02 184.00,179.60 C186.75,179.18 190.27,179.00 192.80,179.00 C195.33,179.00 197.08,179.40 199.20,179.60 C201.32,179.80 204.45,180.10 205.50,180.20" fill="none" stroke="url(#s4)" stroke-width="1.50" stroke-opacity="0.95" stroke-linecap="round"/><path d="M176.30,181.50 C175.88,182.45 174.65,185.50 173.80,187.20 C172.95,188.90 171.83,190.42 171.20,191.70 C170.57,192.98 170.20,194.37 170.00,194.90" fill="none" stroke="url(#s4)" stroke-width="1.50" stroke-opacity="0.95" stroke-linecap="round"/><path d="M184.00,182.80 C184.62,183.63 187.08,186.97 187.70,187.80" fill="none" stroke="url(#s4)" stroke-width="1.50" stroke-opacity="0.95" stroke-linecap="round"/><path d="M192.80,182.00 C193.65,183.28 197.05,188.42 197.90,189.70" fill="none" stroke="url(#s4)" stroke-width="1.50" stroke-opacity="0.95" stroke-linecap="round"/><path d="M161.00,188.50 C161.65,189.03 163.40,190.63 164.90,191.70 C166.40,192.77 168.10,194.27 170.00,194.90 C171.90,195.53 174.40,194.87 176.30,195.50 C178.20,196.13 179.70,197.12 181.40,198.70 C183.10,200.28 184.80,203.12 186.50,205.00 C188.20,206.88 190.75,209.17 191.60,210.00" fill="none" stroke="url(#s4)" stroke-width="1.50" stroke-opacity="0.95" stroke-linecap="round"/><path d="M175.00,186.00 C175.85,187.05 178.40,190.40 180.10,192.30 C181.80,194.20 183.28,195.70 185.20,197.40 C187.12,199.10 189.48,201.02 191.60,202.50 C193.72,203.98 195.58,204.82 197.90,206.30 C200.22,207.78 204.23,210.55 205.50,211.40" fill="none" stroke="url(#s4)" stroke-width="1.50" stroke-opacity="0.95" stroke-linecap="round"/><path d="M181.40,186.00 C182.45,187.05 185.58,190.18 187.70,192.30 C189.82,194.42 191.98,196.78 194.10,198.70 C196.22,200.62 198.50,202.42 200.40,203.80 C202.30,205.18 204.65,206.47 205.50,207.00" fill="none" stroke="url(#s4)" stroke-width="1.50" stroke-opacity="0.95" stroke-linecap="round"/><path d="M189.00,186.00 C190.07,187.05 193.50,190.40 195.40,192.30 C197.30,194.20 198.72,195.92 200.40,197.40 C202.08,198.88 204.65,200.57 205.50,201.20" fill="none" stroke="url(#s4)" stroke-width="1.50" stroke-opacity="0.95" stroke-linecap="round"/><path d="M196.60,186.00 C197.45,186.83 200.22,189.52 201.70,191.00 C203.18,192.48 204.87,194.25 205.50,194.90" fill="none" stroke="url(#s4)" stroke-width="1.50" stroke-opacity="0.95" stroke-linecap="round"/><path d="M161.00,201.20 C162.07,201.63 165.27,202.73 167.40,203.80 C169.53,204.87 171.88,206.33 173.80,207.60 C175.72,208.87 178.05,210.77 178.90,211.40" fill="none" stroke="url(#s4)" stroke-width="1.50" stroke-opacity="0.95" stroke-linecap="round"/><path d="M161.00,206.00 C161.83,206.42 164.33,207.50 166.00,208.50 C167.67,209.50 170.17,211.42 171.00,212.00" fill="none" stroke="url(#s4)" stroke-width="1.50" stroke-opacity="0.95" stroke-linecap="round"/><path d="M167.40,203.80 C168.67,204.00 172.67,204.58 175.00,205.00 C177.33,205.42 179.28,206.30 181.40,206.30 C183.52,206.30 186.65,205.22 187.70,205.00" fill="none" stroke="url(#s4)" stroke-width="1.50" stroke-opacity="0.95" stroke-linecap="round"/><path d="M161.00,194.00 C161.67,194.67 163.50,196.75 165.00,198.00 C166.50,199.25 168.17,200.67 170.00,201.50 C171.83,202.33 175.00,202.75 176.00,203.00" fill="none" stroke="url(#s4)" stroke-width="1.50" stroke-opacity="0.95" stroke-linecap="round"/><path d="M183.00,199.00 C183.83,199.67 186.33,201.58 188.00,203.00 C189.67,204.42 191.33,206.00 193.00,207.50 C194.67,209.00 197.17,211.25 198.00,212.00" fill="none" stroke="url(#s4)" stroke-width="1.50" stroke-opacity="0.95" stroke-linecap="round"/><path d="M199.00,188.00 C199.67,188.67 201.92,190.83 203.00,192.00 C204.08,193.17 205.08,194.50 205.50,195.00" fill="none" stroke="url(#s4)" stroke-width="1.50" stroke-opacity="0.95" stroke-linecap="round"/><path d="M161.00,172.00 C161.67,172.67 163.67,174.58 165.00,176.00 C166.33,177.42 168.33,179.75 169.00,180.50" fill="none" stroke="url(#s4)" stroke-width="1.50" stroke-opacity="0.95" stroke-linecap="round"/></g>
<rect x="160.4" y="76.9" width="46.2" height="0.8" fill="#120830" opacity="0.7"/>
</g>
<rect x="159.95" y="12.7" width="46.65" height="201.4" rx="1.5" fill="none" stroke="#82dc5c" stroke-width="1.45"/>
<text class="a" x="183.3" y="21.8" font-size="7.9" text-anchor="middle">2.0 km/s</text>
<text class="a" x="183.3" y="32.5" font-size="7.9" text-anchor="middle">22 GPa</text>
<g clip-path="url(#c5)">
<rect x="213.4" y="85.5" width="46.2" height="128.5" fill="url(#g5)"/>
<rect x="213.4" y="108" width="46.2" height="106" fill="#eef0b4"/>
<rect x="213.4" y="99" width="46.2" height="9.2" fill="url(#g5b)"/>
<g filter="url(#b7)"><path d="M192.3,89.7 L203.4,97.0" stroke="url(#s5)" stroke-width="1.9" stroke-linecap="round"/><path d="M194.4,94.8 L202.1,100.4" stroke="url(#s5)" stroke-width="1.6" stroke-linecap="round"/><path d="M197.7,91.4 L209.2,99.4" stroke="url(#s5)" stroke-width="2.4" stroke-linecap="round"/><path d="M200.6,99.2 L213.9,107.9" stroke="url(#s5)" stroke-width="1.8" stroke-linecap="round"/><path d="M202.3,89.6 L210.4,96.2" stroke="url(#s5)" stroke-width="2.1" stroke-linecap="round"/><path d="M205.9,97.0 L213.8,102.2" stroke="url(#s5)" stroke-width="1.7" stroke-linecap="round"/><path d="M208.6,90.4 L218.6,98.1" stroke="url(#s5)" stroke-width="1.8" stroke-linecap="round"/><path d="M211.4,96.3 L221.9,104.3" stroke="url(#s5)" stroke-width="2.4" stroke-linecap="round"/><path d="M213.9,90.1 L224.2,97.0" stroke="url(#s5)" stroke-width="2.3" stroke-linecap="round"/><path d="M215.4,95.1 L227.2,104.5" stroke="url(#s5)" stroke-width="2.1" stroke-linecap="round"/><path d="M219.4,91.3 L230.2,99.6" stroke="url(#s5)" stroke-width="2.0" stroke-linecap="round"/><path d="M221.9,99.7 L229.4,105.6" stroke="url(#s5)" stroke-width="2.2" stroke-linecap="round"/><path d="M224.1,93.9 L234.0,100.9" stroke="url(#s5)" stroke-width="2.2" stroke-linecap="round"/><path d="M225.5,97.7 L233.4,103.0" stroke="url(#s5)" stroke-width="2.3" stroke-linecap="round"/><path d="M228.3,92.9 L235.7,99.1" stroke="url(#s5)" stroke-width="1.9" stroke-linecap="round"/><path d="M231.7,103.3 L240.4,110.5" stroke="url(#s5)" stroke-width="1.9" stroke-linecap="round"/><path d="M234.0,95.6 L242.6,101.5" stroke="url(#s5)" stroke-width="1.7" stroke-linecap="round"/><path d="M236.3,102.0 L243.7,107.2" stroke="url(#s5)" stroke-width="1.9" stroke-linecap="round"/><path d="M239.2,95.9 L249.5,104.0" stroke="url(#s5)" stroke-width="2.1" stroke-linecap="round"/><path d="M242.4,103.7 L254.8,113.8" stroke="url(#s5)" stroke-width="2.3" stroke-linecap="round"/><path d="M244.4,96.5 L251.9,102.4" stroke="url(#s5)" stroke-width="1.6" stroke-linecap="round"/><path d="M246.7,102.0 L254.2,107.0" stroke="url(#s5)" stroke-width="1.7" stroke-linecap="round"/><path d="M249.1,97.3 L259.7,106.3" stroke="url(#s5)" stroke-width="1.6" stroke-linecap="round"/><path d="M252.0,103.7 L265.0,112.5" stroke="url(#s5)" stroke-width="2.5" stroke-linecap="round"/><path d="M255.0,98.8 L264.7,105.4" stroke="url(#s5)" stroke-width="1.8" stroke-linecap="round"/><path d="M258.3,102.8 L268.3,111.4" stroke="url(#s5)" stroke-width="1.6" stroke-linecap="round"/><path d="M260.3,98.7 L272.4,109.1" stroke="url(#s5)" stroke-width="2.2" stroke-linecap="round"/><path d="M262.4,104.8 L272.7,113.2" stroke="url(#s5)" stroke-width="2.3" stroke-linecap="round"/><path d="M265.1,100.2 L277.1,110.5" stroke="url(#s5)" stroke-width="2.3" stroke-linecap="round"/><path d="M268.7,107.3 L278.1,114.5" stroke="url(#s5)" stroke-width="1.5" stroke-linecap="round"/></g>
<g filter="url(#b7)"><ellipse cx="225.0" cy="100.5" rx="7.4" ry="0.9" fill="#d23e46" fill-opacity="1.00" transform="rotate(44 225.0 100.5)"/><ellipse cx="225.0" cy="100.5" rx="3.3" ry="0.5" fill="#9a2a78" fill-opacity="0.75" transform="rotate(44 225.0 100.5)"/><ellipse cx="234.9" cy="101.7" rx="6.4" ry="1.0" fill="#d23e46" fill-opacity="1.00" transform="rotate(43 234.9 101.7)"/><ellipse cx="244.8" cy="103.8" rx="7.7" ry="1.0" fill="#d23e46" fill-opacity="1.00" transform="rotate(41 244.8 103.8)"/><ellipse cx="244.8" cy="103.8" rx="3.5" ry="0.5" fill="#9a2a78" fill-opacity="0.75" transform="rotate(41 244.8 103.8)"/><ellipse cx="248.0" cy="103.9" rx="7.4" ry="0.8" fill="#cc384c" fill-opacity="1.00" transform="rotate(32 248.0 103.9)"/><ellipse cx="252.4" cy="103.3" rx="7.9" ry="1.1" fill="#da483e" fill-opacity="1.00" transform="rotate(39 252.4 103.3)"/><ellipse cx="252.4" cy="103.3" rx="3.5" ry="0.5" fill="#9a2a78" fill-opacity="0.75" transform="rotate(39 252.4 103.3)"/><ellipse cx="248.2" cy="104.2" rx="7.4" ry="1.3" fill="#d6403c" fill-opacity="1.00" transform="rotate(42 248.2 104.2)"/><ellipse cx="248.2" cy="104.2" rx="3.3" ry="0.6" fill="#9a2a78" fill-opacity="0.75" transform="rotate(42 248.2 104.2)"/><ellipse cx="223.0" cy="106.2" rx="5.2" ry="0.8" fill="#de503c" fill-opacity="1.00" transform="rotate(36 223.0 106.2)"/><ellipse cx="237.3" cy="107.7" rx="7.9" ry="0.8" fill="#da483e" fill-opacity="1.00" transform="rotate(42 237.3 107.7)"/><ellipse cx="218.2" cy="107.3" rx="6.7" ry="0.8" fill="#de503c" fill-opacity="1.00" transform="rotate(38 218.2 107.3)"/><ellipse cx="239.6" cy="108.5" rx="5.2" ry="1.1" fill="#d6403c" fill-opacity="1.00" transform="rotate(41 239.6 108.5)"/><ellipse cx="239.6" cy="108.5" rx="2.4" ry="0.6" fill="#9a2a78" fill-opacity="0.75" transform="rotate(41 239.6 108.5)"/><ellipse cx="236.7" cy="110.0" rx="6.9" ry="1.1" fill="#e25a3e" fill-opacity="1.00" transform="rotate(43 236.7 110.0)"/><ellipse cx="258.7" cy="111.8" rx="7.7" ry="1.1" fill="#d23e46" fill-opacity="1.00" transform="rotate(37 258.7 111.8)"/><ellipse cx="258.7" cy="111.8" rx="3.5" ry="0.5" fill="#9a2a78" fill-opacity="0.75" transform="rotate(37 258.7 111.8)"/><ellipse cx="223.0" cy="110.1" rx="6.8" ry="1.4" fill="#e25a3e" fill-opacity="1.00" transform="rotate(41 223.0 110.1)"/><ellipse cx="223.0" cy="110.1" rx="3.1" ry="0.7" fill="#9a2a78" fill-opacity="0.75" transform="rotate(41 223.0 110.1)"/><ellipse cx="217.6" cy="111.9" rx="7.0" ry="1.4" fill="#da483e" fill-opacity="1.00" transform="rotate(40 217.6 111.9)"/><ellipse cx="217.6" cy="111.9" rx="3.2" ry="0.7" fill="#9a2a78" fill-opacity="0.75" transform="rotate(40 217.6 111.9)"/><ellipse cx="237.3" cy="112.7" rx="4.7" ry="1.3" fill="#de503c" fill-opacity="1.00" transform="rotate(39 237.3 112.7)"/><ellipse cx="237.4" cy="113.6" rx="7.8" ry="1.4" fill="#d6403c" fill-opacity="1.00" transform="rotate(43 237.4 113.6)"/><ellipse cx="237.4" cy="113.6" rx="3.5" ry="0.7" fill="#9a2a78" fill-opacity="0.75" transform="rotate(43 237.4 113.6)"/><ellipse cx="251.0" cy="114.5" rx="4.4" ry="1.5" fill="#da483e" fill-opacity="1.00" transform="rotate(35 251.0 114.5)"/><ellipse cx="237.2" cy="116.0" rx="5.1" ry="1.4" fill="#d23e46" fill-opacity="0.99" transform="rotate(43 237.2 116.0)"/><ellipse cx="252.1" cy="116.2" rx="7.2" ry="1.5" fill="#cc384c" fill-opacity="0.99" transform="rotate(36 252.1 116.2)"/><ellipse cx="252.1" cy="116.2" rx="3.2" ry="0.7" fill="#9a2a78" fill-opacity="0.75" transform="rotate(36 252.1 116.2)"/><ellipse cx="258.1" cy="117.2" rx="4.1" ry="1.6" fill="#da483e" fill-opacity="0.99" transform="rotate(35 258.1 117.2)"/><ellipse cx="226.7" cy="117.6" rx="6.8" ry="1.2" fill="#d6403c" fill-opacity="0.99" transform="rotate(36 226.7 117.6)"/><ellipse cx="211.4" cy="119.0" rx="7.6" ry="1.1" fill="#e25a3e" fill-opacity="0.99" transform="rotate(40 211.4 119.0)"/><ellipse cx="211.4" cy="119.0" rx="3.4" ry="0.6" fill="#9a2a78" fill-opacity="0.75" transform="rotate(40 211.4 119.0)"/><ellipse cx="253.8" cy="119.8" rx="5.8" ry="1.6" fill="#e25a3e" fill-opacity="0.99" transform="rotate(42 253.8 119.8)"/><ellipse cx="261.9" cy="122.0" rx="6.8" ry="1.4" fill="#d6403c" fill-opacity="0.99" transform="rotate(37 261.9 122.0)"/><ellipse cx="261.9" cy="122.0" rx="3.1" ry="0.7" fill="#9a2a78" fill-opacity="0.75" transform="rotate(37 261.9 122.0)"/><ellipse cx="255.7" cy="122.3" rx="4.7" ry="1.2" fill="#de503c" fill-opacity="0.99" transform="rotate(34 255.7 122.3)"/><ellipse cx="255.7" cy="122.3" rx="2.1" ry="0.6" fill="#9a2a78" fill-opacity="0.75" transform="rotate(34 255.7 122.3)"/><ellipse cx="229.4" cy="121.7" rx="7.4" ry="1.0" fill="#da483e" fill-opacity="0.99" transform="rotate(35 229.4 121.7)"/><ellipse cx="229.4" cy="121.7" rx="3.3" ry="0.5" fill="#9a2a78" fill-opacity="0.75" transform="rotate(35 229.4 121.7)"/><ellipse cx="235.1" cy="123.0" rx="4.5" ry="1.0" fill="#de503c" fill-opacity="0.99" transform="rotate(33 235.1 123.0)"/><ellipse cx="230.9" cy="123.6" rx="5.9" ry="1.7" fill="#e25a3e" fill-opacity="0.99" transform="rotate(34 230.9 123.6)"/><ellipse cx="241.5" cy="124.5" rx="6.4" ry="1.2" fill="#e25a3e" fill-opacity="0.99" transform="rotate(34 241.5 124.5)"/><ellipse cx="248.6" cy="125.6" rx="4.2" ry="1.4" fill="#e25a3e" fill-opacity="0.99" transform="rotate(42 248.6 125.6)"/><ellipse cx="240.8" cy="125.8" rx="6.2" ry="1.2" fill="#d23e46" fill-opacity="0.99" transform="rotate(34 240.8 125.8)"/><ellipse cx="233.9" cy="125.1" rx="3.8" ry="1.2" fill="#d6403c" fill-opacity="0.99" transform="rotate(37 233.9 125.1)"/><ellipse cx="249.4" cy="126.0" rx="5.7" ry="1.1" fill="#d6403c" fill-opacity="0.99" transform="rotate(35 249.4 126.0)"/><ellipse cx="249.8" cy="126.5" rx="5.4" ry="1.6" fill="#d23e46" fill-opacity="0.98" transform="rotate(43 249.8 126.5)"/><ellipse cx="243.9" cy="127.2" rx="3.7" ry="1.5" fill="#d6403c" fill-opacity="0.98" transform="rotate(39 243.9 127.2)"/><ellipse cx="235.5" cy="128.0" rx="6.3" ry="1.2" fill="#d23e46" fill-opacity="0.98" transform="rotate(41 235.5 128.0)"/><ellipse cx="216.6" cy="129.8" rx="4.1" ry="1.6" fill="#cc384c" fill-opacity="0.98" transform="rotate(38 216.6 129.8)"/><ellipse cx="260.8" cy="128.9" rx="4.0" ry="1.7" fill="#da483e" fill-opacity="0.98" transform="rotate(39 260.8 128.9)"/><ellipse cx="224.1" cy="129.7" rx="5.2" ry="1.2" fill="#de503c" fill-opacity="0.98" transform="rotate(36 224.1 129.7)"/><ellipse cx="235.7" cy="129.0" rx="3.3" ry="1.3" fill="#d23e46" fill-opacity="0.98" transform="rotate(34 235.7 129.0)"/><ellipse cx="216.7" cy="130.7" rx="4.2" ry="1.4" fill="#d6403c" fill-opacity="0.98" transform="rotate(34 216.7 130.7)"/><ellipse cx="257.3" cy="130.6" rx="4.4" ry="1.7" fill="#de503c" fill-opacity="0.98" transform="rotate(36 257.3 130.6)"/><ellipse cx="254.9" cy="131.6" rx="3.4" ry="1.4" fill="#de503c" fill-opacity="0.98" transform="rotate(44 254.9 131.6)"/><ellipse cx="237.0" cy="131.4" rx="4.5" ry="1.7" fill="#cc384c" fill-opacity="0.98" transform="rotate(40 237.0 131.4)"/><ellipse cx="247.9" cy="132.1" rx="5.4" ry="1.6" fill="#d6403c" fill-opacity="0.98" transform="rotate(35 247.9 132.1)"/><ellipse cx="239.1" cy="132.3" rx="4.4" ry="1.2" fill="#de503c" fill-opacity="0.98" transform="rotate(40 239.1 132.3)"/><ellipse cx="226.1" cy="134.1" rx="4.2" ry="1.1" fill="#de503c" fill-opacity="0.97" transform="rotate(43 226.1 134.1)"/><ellipse cx="239.1" cy="133.9" rx="4.3" ry="1.3" fill="#da483e" fill-opacity="0.97" transform="rotate(35 239.1 133.9)"/><ellipse cx="215.2" cy="134.5" rx="4.0" ry="1.6" fill="#de503c" fill-opacity="0.97" transform="rotate(37 215.2 134.5)"/><ellipse cx="249.2" cy="134.4" rx="4.1" ry="1.4" fill="#e25a3e" fill-opacity="0.97" transform="rotate(36 249.2 134.4)"/><ellipse cx="243.2" cy="136.7" rx="3.7" ry="1.2" fill="#d23e46" fill-opacity="0.97" transform="rotate(37 243.2 136.7)"/><ellipse cx="254.6" cy="136.7" rx="3.0" ry="1.5" fill="#cc384c" fill-opacity="0.97" transform="rotate(38 254.6 136.7)"/><ellipse cx="214.3" cy="137.9" rx="5.8" ry="1.3" fill="#da483e" fill-opacity="0.97" transform="rotate(41 214.3 137.9)"/><ellipse cx="214.3" cy="137.9" rx="2.6" ry="0.7" fill="#9a2a78" fill-opacity="0.75" transform="rotate(41 214.3 137.9)"/><ellipse cx="237.6" cy="137.4" rx="5.9" ry="1.5" fill="#cc384c" fill-opacity="0.97" transform="rotate(37 237.6 137.4)"/><ellipse cx="217.0" cy="138.1" rx="3.3" ry="1.6" fill="#de503c" fill-opacity="0.97" transform="rotate(38 217.0 138.1)"/><ellipse cx="246.8" cy="137.2" rx="3.3" ry="1.4" fill="#cc384c" fill-opacity="0.97" transform="rotate(35 246.8 137.2)"/><ellipse cx="238.4" cy="140.0" rx="3.8" ry="1.5" fill="#cc384c" fill-opacity="0.97" transform="rotate(38 238.4 140.0)"/><ellipse cx="223.3" cy="139.9" rx="5.0" ry="1.1" fill="#de503c" fill-opacity="0.97" transform="rotate(40 223.3 139.9)"/><ellipse cx="223.3" cy="139.9" rx="2.2" ry="0.5" fill="#9a2a78" fill-opacity="0.75" transform="rotate(40 223.3 139.9)"/><ellipse cx="232.5" cy="139.7" rx="4.5" ry="1.4" fill="#d6403c" fill-opacity="0.96" transform="rotate(37 232.5 139.7)"/><ellipse cx="251.9" cy="140.5" rx="4.3" ry="1.6" fill="#da483e" fill-opacity="0.96" transform="rotate(42 251.9 140.5)"/><ellipse cx="224.2" cy="141.8" rx="3.4" ry="1.5" fill="#e25a3e" fill-opacity="0.96" transform="rotate(38 224.2 141.8)"/><ellipse cx="213.4" cy="141.2" rx="5.4" ry="1.1" fill="#e25a3e" fill-opacity="0.96" transform="rotate(37 213.4 141.2)"/><ellipse cx="213.4" cy="141.2" rx="2.4" ry="0.5" fill="#9a2a78" fill-opacity="0.75" transform="rotate(37 213.4 141.2)"/><ellipse cx="257.2" cy="142.8" rx="5.3" ry="1.5" fill="#cc384c" fill-opacity="0.96" transform="rotate(34 257.2 142.8)"/><ellipse cx="212.1" cy="142.3" rx="4.0" ry="1.2" fill="#d23e46" fill-opacity="0.96" transform="rotate(32 212.1 142.3)"/><ellipse cx="232.3" cy="143.8" rx="4.6" ry="1.3" fill="#de503c" fill-opacity="0.96" transform="rotate(36 232.3 143.8)"/><ellipse cx="232.3" cy="143.8" rx="2.1" ry="0.6" fill="#9a2a78" fill-opacity="0.75" transform="rotate(36 232.3 143.8)"/><ellipse cx="247.1" cy="142.4" rx="4.4" ry="1.3" fill="#e25a3e" fill-opacity="0.96" transform="rotate(38 247.1 142.4)"/><ellipse cx="252.7" cy="144.5" rx="2.9" ry="1.1" fill="#e25a3e" fill-opacity="0.96" transform="rotate(35 252.7 144.5)"/><ellipse cx="213.7" cy="144.2" rx="3.9" ry="1.5" fill="#e25a3e" fill-opacity="0.96" transform="rotate(41 213.7 144.2)"/><ellipse cx="224.8" cy="144.0" rx="5.2" ry="1.5" fill="#da483e" fill-opacity="0.96" transform="rotate(32 224.8 144.0)"/><ellipse cx="224.8" cy="144.0" rx="2.3" ry="0.7" fill="#9a2a78" fill-opacity="0.75" transform="rotate(32 224.8 144.0)"/><ellipse cx="247.7" cy="144.9" rx="5.1" ry="1.6" fill="#de503c" fill-opacity="0.96" transform="rotate(34 247.7 144.9)"/><ellipse cx="247.7" cy="144.9" rx="2.3" ry="0.8" fill="#9a2a78" fill-opacity="0.75" transform="rotate(34 247.7 144.9)"/><ellipse cx="248.9" cy="146.6" rx="5.0" ry="1.2" fill="#cc384c" fill-opacity="0.95" transform="rotate(36 248.9 146.6)"/><ellipse cx="248.9" cy="146.6" rx="2.2" ry="0.6" fill="#9a2a78" fill-opacity="0.75" transform="rotate(36 248.9 146.6)"/><ellipse cx="220.7" cy="146.5" rx="3.4" ry="1.1" fill="#de503c" fill-opacity="0.95" transform="rotate(36 220.7 146.5)"/><ellipse cx="256.4" cy="147.0" rx="3.4" ry="1.1" fill="#de503c" fill-opacity="0.95" transform="rotate(41 256.4 147.0)"/><ellipse cx="217.4" cy="146.9" rx="5.0" ry="1.4" fill="#d23e46" fill-opacity="0.95" transform="rotate(41 217.4 146.9)"/><ellipse cx="217.4" cy="146.9" rx="2.3" ry="0.7" fill="#9a2a78" fill-opacity="0.75" transform="rotate(41 217.4 146.9)"/><ellipse cx="239.9" cy="146.7" rx="4.6" ry="1.1" fill="#cc384c" fill-opacity="0.95" transform="rotate(34 239.9 146.7)"/><ellipse cx="239.9" cy="146.7" rx="2.1" ry="0.6" fill="#9a2a78" fill-opacity="0.75" transform="rotate(34 239.9 146.7)"/><ellipse cx="223.5" cy="147.5" rx="4.3" ry="1.1" fill="#d6403c" fill-opacity="0.95" transform="rotate(32 223.5 147.5)"/><ellipse cx="235.1" cy="148.6" rx="5.2" ry="1.0" fill="#da483e" fill-opacity="0.95" transform="rotate(33 235.1 148.6)"/><ellipse cx="220.5" cy="148.2" rx="4.0" ry="1.4" fill="#d6403c" fill-opacity="0.95" transform="rotate(40 220.5 148.2)"/><ellipse cx="216.0" cy="149.2" rx="4.3" ry="1.2" fill="#d23e46" fill-opacity="0.95" transform="rotate(34 216.0 149.2)"/><ellipse cx="212.4" cy="149.5" rx="5.3" ry="1.4" fill="#cc384c" fill-opacity="0.95" transform="rotate(36 212.4 149.5)"/><ellipse cx="212.4" cy="149.5" rx="2.4" ry="0.7" fill="#9a2a78" fill-opacity="0.75" transform="rotate(36 212.4 149.5)"/><ellipse cx="251.8" cy="150.1" rx="2.8" ry="1.2" fill="#d6403c" fill-opacity="0.94" transform="rotate(40 251.8 150.1)"/><ellipse cx="244.4" cy="149.8" rx="3.8" ry="1.4" fill="#e25a3e" fill-opacity="0.94" transform="rotate(33 244.4 149.8)"/><ellipse cx="229.0" cy="150.8" rx="5.2" ry="1.1" fill="#da483e" fill-opacity="0.94" transform="rotate(41 229.0 150.8)"/><ellipse cx="233.0" cy="150.3" rx="2.9" ry="1.3" fill="#da483e" fill-opacity="0.94" transform="rotate(41 233.0 150.3)"/><ellipse cx="211.2" cy="151.1" rx="4.6" ry="1.1" fill="#cc384c" fill-opacity="0.94" transform="rotate(36 211.2 151.1)"/><ellipse cx="211.2" cy="151.1" rx="2.1" ry="0.5" fill="#9a2a78" fill-opacity="0.75" transform="rotate(36 211.2 151.1)"/><ellipse cx="218.9" cy="151.3" rx="2.9" ry="1.5" fill="#d23e46" fill-opacity="0.94" transform="rotate(42 218.9 151.3)"/><ellipse cx="217.0" cy="152.9" rx="5.1" ry="1.1" fill="#e25a3e" fill-opacity="0.94" transform="rotate(37 217.0 152.9)"/><ellipse cx="218.8" cy="153.6" rx="3.3" ry="1.5" fill="#da483e" fill-opacity="0.94" transform="rotate(34 218.8 153.6)"/><ellipse cx="212.6" cy="153.9" rx="3.1" ry="1.2" fill="#da483e" fill-opacity="0.94" transform="rotate(42 212.6 153.9)"/><ellipse cx="212.6" cy="153.1" rx="4.3" ry="1.4" fill="#cc384c" fill-opacity="0.94" transform="rotate(39 212.6 153.1)"/><ellipse cx="250.9" cy="154.3" rx="3.4" ry="1.2" fill="#da483e" fill-opacity="0.94" transform="rotate(38 250.9 154.3)"/><ellipse cx="211.7" cy="154.2" rx="3.8" ry="1.4" fill="#da483e" fill-opacity="0.94" transform="rotate(37 211.7 154.2)"/><ellipse cx="252.6" cy="153.8" rx="2.9" ry="1.3" fill="#e25a3e" fill-opacity="0.94" transform="rotate(38 252.6 153.8)"/><ellipse cx="243.5" cy="154.2" rx="4.6" ry="1.2" fill="#de503c" fill-opacity="0.93" transform="rotate(38 243.5 154.2)"/><ellipse cx="251.2" cy="154.1" rx="3.0" ry="1.3" fill="#de503c" fill-opacity="0.93" transform="rotate(34 251.2 154.1)"/><ellipse cx="252.6" cy="156.6" rx="4.4" ry="1.2" fill="#d23e46" fill-opacity="0.93" transform="rotate(39 252.6 156.6)"/><ellipse cx="218.7" cy="156.8" rx="3.6" ry="1.1" fill="#da483e" fill-opacity="0.93" transform="rotate(43 218.7 156.8)"/><ellipse cx="241.2" cy="156.2" rx="3.2" ry="1.1" fill="#d23e46" fill-opacity="0.93" transform="rotate(40 241.2 156.2)"/><ellipse cx="257.0" cy="156.3" rx="4.2" ry="1.3" fill="#de503c" fill-opacity="0.93" transform="rotate(36 257.0 156.3)"/><ellipse cx="239.3" cy="157.2" rx="4.4" ry="1.5" fill="#d23e46" fill-opacity="0.93" transform="rotate(37 239.3 157.2)"/><ellipse cx="224.2" cy="158.0" rx="3.9" ry="1.4" fill="#e25a3e" fill-opacity="0.93" transform="rotate(34 224.2 158.0)"/><ellipse cx="225.9" cy="158.0" rx="3.7" ry="1.5" fill="#e25a3e" fill-opacity="0.93" transform="rotate(43 225.9 158.0)"/><ellipse cx="210.5" cy="157.1" rx="3.1" ry="1.2" fill="#da483e" fill-opacity="0.93" transform="rotate(43 210.5 157.1)"/><ellipse cx="235.8" cy="158.2" rx="2.5" ry="1.2" fill="#cc384c" fill-opacity="0.93" transform="rotate(38 235.8 158.2)"/><ellipse cx="240.8" cy="159.2" rx="3.2" ry="1.1" fill="#da483e" fill-opacity="0.92" transform="rotate(43 240.8 159.2)"/><ellipse cx="247.2" cy="158.9" rx="2.6" ry="1.3" fill="#d6403c" fill-opacity="0.92" transform="rotate(42 247.2 158.9)"/><ellipse cx="213.4" cy="159.6" rx="4.6" ry="1.3" fill="#de503c" fill-opacity="0.92" transform="rotate(38 213.4 159.6)"/><ellipse cx="213.4" cy="159.6" rx="2.1" ry="0.6" fill="#9a2a78" fill-opacity="0.75" transform="rotate(38 213.4 159.6)"/><ellipse cx="212.7" cy="160.1" rx="3.3" ry="1.1" fill="#cc384c" fill-opacity="0.92" transform="rotate(32 212.7 160.1)"/><ellipse cx="244.6" cy="159.4" rx="3.6" ry="1.3" fill="#cc384c" fill-opacity="0.92" transform="rotate(37 244.6 159.4)"/><ellipse cx="219.5" cy="159.6" rx="3.0" ry="1.5" fill="#d6403c" fill-opacity="0.92" transform="rotate(41 219.5 159.6)"/><ellipse cx="233.2" cy="161.8" rx="3.0" ry="1.2" fill="#e25a3e" fill-opacity="0.92" transform="rotate(35 233.2 161.8)"/><ellipse cx="212.5" cy="160.7" rx="4.3" ry="1.4" fill="#cc384c" fill-opacity="0.92" transform="rotate(35 212.5 160.7)"/><ellipse cx="245.8" cy="161.4" rx="4.9" ry="1.2" fill="#d6403c" fill-opacity="0.92" transform="rotate(43 245.8 161.4)"/><ellipse cx="224.0" cy="161.5" rx="4.5" ry="1.3" fill="#d23e46" fill-opacity="0.91" transform="rotate(43 224.0 161.5)"/><ellipse cx="241.7" cy="161.8" rx="4.7" ry="1.5" fill="#de503c" fill-opacity="0.91" transform="rotate(38 241.7 161.8)"/><ellipse cx="246.7" cy="162.7" rx="3.7" ry="1.2" fill="#cc384c" fill-opacity="0.91" transform="rotate(35 246.7 162.7)"/><ellipse cx="239.8" cy="162.3" rx="2.4" ry="1.2" fill="#e25a3e" fill-opacity="0.91" transform="rotate(44 239.8 162.3)"/><ellipse cx="211.9" cy="162.1" rx="4.1" ry="1.3" fill="#cc384c" fill-opacity="0.91" transform="rotate(33 211.9 162.1)"/><ellipse cx="250.1" cy="162.4" rx="4.5" ry="1.4" fill="#e25a3e" fill-opacity="0.91" transform="rotate(41 250.1 162.4)"/><ellipse cx="216.0" cy="163.4" rx="2.5" ry="1.4" fill="#e25a3e" fill-opacity="0.91" transform="rotate(40 216.0 163.4)"/><ellipse cx="243.3" cy="164.0" rx="3.1" ry="1.2" fill="#d23e46" fill-opacity="0.91" transform="rotate(36 243.3 164.0)"/><ellipse cx="211.5" cy="163.5" rx="3.3" ry="1.1" fill="#cc384c" fill-opacity="0.91" transform="rotate(44 211.5 163.5)"/><ellipse cx="235.2" cy="163.6" rx="4.3" ry="1.0" fill="#de503c" fill-opacity="0.91" transform="rotate(33 235.2 163.6)"/><ellipse cx="238.4" cy="164.4" rx="3.9" ry="1.2" fill="#da483e" fill-opacity="0.91" transform="rotate(32 238.4 164.4)"/><ellipse cx="225.4" cy="165.5" rx="2.6" ry="1.1" fill="#de503c" fill-opacity="0.91" transform="rotate(42 225.4 165.5)"/><ellipse cx="241.3" cy="165.9" rx="3.6" ry="1.1" fill="#da483e" fill-opacity="0.91" transform="rotate(43 241.3 165.9)"/><ellipse cx="216.2" cy="166.3" rx="3.0" ry="1.3" fill="#d23e46" fill-opacity="0.90" transform="rotate(40 216.2 166.3)"/><ellipse cx="215.4" cy="166.9" rx="4.4" ry="1.2" fill="#d23e46" fill-opacity="0.90" transform="rotate(36 215.4 166.9)"/><ellipse cx="224.1" cy="166.8" rx="3.4" ry="1.3" fill="#cc384c" fill-opacity="0.90" transform="rotate(38 224.1 166.8)"/><ellipse cx="246.3" cy="167.2" rx="2.7" ry="1.3" fill="#cc384c" fill-opacity="0.90" transform="rotate(37 246.3 167.2)"/><ellipse cx="249.0" cy="166.3" rx="3.6" ry="1.1" fill="#e25a3e" fill-opacity="0.90" transform="rotate(38 249.0 166.3)"/><ellipse cx="222.8" cy="166.4" rx="3.3" ry="1.2" fill="#da483e" fill-opacity="0.90" transform="rotate(34 222.8 166.4)"/><ellipse cx="241.8" cy="167.7" rx="3.3" ry="1.2" fill="#da483e" fill-opacity="0.90" transform="rotate(44 241.8 167.7)"/><ellipse cx="260.5" cy="167.2" rx="3.6" ry="1.4" fill="#da483e" fill-opacity="0.90" transform="rotate(37 260.5 167.2)"/><ellipse cx="216.1" cy="168.8" rx="3.4" ry="1.0" fill="#de503c" fill-opacity="0.90" transform="rotate(42 216.1 168.8)"/><ellipse cx="246.5" cy="168.0" rx="3.6" ry="1.1" fill="#e25a3e" fill-opacity="0.90" transform="rotate(37 246.5 168.0)"/><ellipse cx="254.8" cy="169.4" rx="3.7" ry="1.3" fill="#e25a3e" fill-opacity="0.89" transform="rotate(40 254.8 169.4)"/><ellipse cx="246.9" cy="169.7" rx="3.8" ry="1.1" fill="#d6403c" fill-opacity="0.89" transform="rotate(40 246.9 169.7)"/><ellipse cx="257.0" cy="168.5" rx="3.4" ry="1.1" fill="#d6403c" fill-opacity="0.89" transform="rotate(38 257.0 168.5)"/><ellipse cx="231.7" cy="170.4" rx="3.8" ry="1.3" fill="#de503c" fill-opacity="0.89" transform="rotate(37 231.7 170.4)"/><ellipse cx="257.7" cy="169.2" rx="2.7" ry="1.4" fill="#d23e46" fill-opacity="0.89" transform="rotate(34 257.7 169.2)"/><ellipse cx="215.7" cy="170.1" rx="3.6" ry="1.2" fill="#cc384c" fill-opacity="0.89" transform="rotate(42 215.7 170.1)"/><ellipse cx="228.3" cy="170.5" rx="3.7" ry="1.1" fill="#e25a3e" fill-opacity="0.89" transform="rotate(43 228.3 170.5)"/><ellipse cx="228.9" cy="170.1" rx="2.9" ry="1.0" fill="#e25a3e" fill-opacity="0.89" transform="rotate(37 228.9 170.1)"/><ellipse cx="245.5" cy="171.2" rx="2.5" ry="1.3" fill="#de503c" fill-opacity="0.89" transform="rotate(44 245.5 171.2)"/><ellipse cx="234.5" cy="170.3" rx="3.6" ry="1.2" fill="#e25a3e" fill-opacity="0.89" transform="rotate(40 234.5 170.3)"/><ellipse cx="222.2" cy="171.9" rx="3.2" ry="1.4" fill="#d23e46" fill-opacity="0.89" transform="rotate(38 222.2 171.9)"/><ellipse cx="244.2" cy="172.6" rx="3.5" ry="1.1" fill="#de503c" fill-opacity="0.88" transform="rotate(40 244.2 172.6)"/><ellipse cx="245.7" cy="172.0" rx="4.0" ry="1.2" fill="#de503c" fill-opacity="0.88" transform="rotate(36 245.7 172.0)"/><ellipse cx="232.7" cy="172.3" rx="3.4" ry="1.4" fill="#cc384c" fill-opacity="0.88" transform="rotate(33 232.7 172.3)"/><ellipse cx="257.6" cy="172.6" rx="3.0" ry="1.1" fill="#d6403c" fill-opacity="0.88" transform="rotate(32 257.6 172.6)"/><ellipse cx="223.5" cy="172.2" rx="2.5" ry="1.2" fill="#de503c" fill-opacity="0.88" transform="rotate(34 223.5 172.2)"/><ellipse cx="251.6" cy="172.3" rx="3.9" ry="1.3" fill="#e25a3e" fill-opacity="0.88" transform="rotate(43 251.6 172.3)"/><ellipse cx="254.1" cy="172.4" rx="3.6" ry="1.2" fill="#cc384c" fill-opacity="0.88" transform="rotate(43 254.1 172.4)"/><ellipse cx="216.6" cy="172.8" rx="3.7" ry="1.2" fill="#e25a3e" fill-opacity="0.88" transform="rotate(43 216.6 172.8)"/><ellipse cx="236.4" cy="174.1" rx="3.3" ry="1.3" fill="#e25a3e" fill-opacity="0.88" transform="rotate(39 236.4 174.1)"/><ellipse cx="225.9" cy="173.9" rx="3.5" ry="1.1" fill="#e25a3e" fill-opacity="0.88" transform="rotate(36 225.9 173.9)"/><ellipse cx="211.9" cy="174.2" rx="3.9" ry="1.2" fill="#de503c" fill-opacity="0.88" transform="rotate(38 211.9 174.2)"/><ellipse cx="249.8" cy="173.3" rx="2.7" ry="0.9" fill="#d23e46" fill-opacity="0.88" transform="rotate(40 249.8 173.3)"/><ellipse cx="237.8" cy="175.5" rx="2.7" ry="1.1" fill="#d23e46" fill-opacity="0.87" transform="rotate(42 237.8 175.5)"/><ellipse cx="228.9" cy="175.0" rx="3.4" ry="1.2" fill="#de503c" fill-opacity="0.87" transform="rotate(34 228.9 175.0)"/><ellipse cx="251.6" cy="174.7" rx="2.7" ry="1.2" fill="#d6403c" fill-opacity="0.87" transform="rotate(41 251.6 174.7)"/><ellipse cx="231.2" cy="175.1" rx="3.1" ry="1.0" fill="#de503c" fill-opacity="0.87" transform="rotate(33 231.2 175.1)"/><ellipse cx="244.7" cy="176.6" rx="3.8" ry="1.2" fill="#cc384c" fill-opacity="0.87" transform="rotate(40 244.7 176.6)"/><ellipse cx="256.0" cy="175.2" rx="2.6" ry="1.1" fill="#d6403c" fill-opacity="0.87" transform="rotate(40 256.0 175.2)"/><ellipse cx="232.4" cy="175.2" rx="3.3" ry="1.1" fill="#e25a3e" fill-opacity="0.87" transform="rotate(36 232.4 175.2)"/><ellipse cx="223.9" cy="175.6" rx="2.9" ry="1.2" fill="#d6403c" fill-opacity="0.87" transform="rotate(43 223.9 175.6)"/><ellipse cx="237.6" cy="177.6" rx="3.4" ry="1.2" fill="#e25a3e" fill-opacity="0.87" transform="rotate(33 237.6 177.6)"/><ellipse cx="230.6" cy="177.2" rx="4.2" ry="1.1" fill="#e25a3e" fill-opacity="0.87" transform="rotate(33 230.6 177.2)"/><ellipse cx="235.0" cy="177.8" rx="3.2" ry="1.0" fill="#d6403c" fill-opacity="0.87" transform="rotate(44 235.0 177.8)"/><ellipse cx="221.8" cy="176.2" rx="2.9" ry="1.1" fill="#d6403c" fill-opacity="0.87" transform="rotate(41 221.8 176.2)"/><ellipse cx="249.3" cy="178.4" rx="2.8" ry="1.1" fill="#e25a3e" fill-opacity="0.86" transform="rotate(38 249.3 178.4)"/><ellipse cx="258.9" cy="177.5" rx="3.9" ry="0.8" fill="#cc384c" fill-opacity="0.86" transform="rotate(40 258.9 177.5)"/><ellipse cx="214.6" cy="177.6" rx="3.1" ry="1.2" fill="#d23e46" fill-opacity="0.86" transform="rotate(33 214.6 177.6)"/><ellipse cx="259.8" cy="178.5" rx="2.7" ry="1.1" fill="#da483e" fill-opacity="0.86" transform="rotate(43 259.8 178.5)"/><ellipse cx="232.2" cy="178.8" rx="3.8" ry="1.2" fill="#d6403c" fill-opacity="0.86" transform="rotate(36 232.2 178.8)"/><ellipse cx="242.8" cy="179.3" rx="3.5" ry="1.3" fill="#da483e" fill-opacity="0.86" transform="rotate(32 242.8 179.3)"/><ellipse cx="241.7" cy="178.6" rx="3.3" ry="1.1" fill="#da483e" fill-opacity="0.86" transform="rotate(39 241.7 178.6)"/><ellipse cx="252.4" cy="178.6" rx="2.1" ry="1.1" fill="#d6403c" fill-opacity="0.86" transform="rotate(42 252.4 178.6)"/><ellipse cx="217.8" cy="180.8" rx="3.3" ry="1.3" fill="#de503c" fill-opacity="0.86" transform="rotate(39 217.8 180.8)"/><ellipse cx="228.5" cy="179.2" rx="3.3" ry="1.1" fill="#da483e" fill-opacity="0.86" transform="rotate(43 228.5 179.2)"/><ellipse cx="226.5" cy="179.1" rx="3.1" ry="1.3" fill="#de503c" fill-opacity="0.86" transform="rotate(32 226.5 179.1)"/><ellipse cx="234.4" cy="179.2" rx="3.6" ry="1.1" fill="#cc384c" fill-opacity="0.86" transform="rotate(43 234.4 179.2)"/><ellipse cx="236.8" cy="180.4" rx="2.2" ry="1.1" fill="#d23e46" fill-opacity="0.85" transform="rotate(39 236.8 180.4)"/><ellipse cx="231.4" cy="181.0" rx="2.1" ry="1.2" fill="#e25a3e" fill-opacity="0.85" transform="rotate(33 231.4 181.0)"/><ellipse cx="234.5" cy="180.2" rx="2.3" ry="1.1" fill="#da483e" fill-opacity="0.85" transform="rotate(33 234.5 180.2)"/><ellipse cx="262.0" cy="181.7" rx="3.0" ry="1.1" fill="#de503c" fill-opacity="0.85" transform="rotate(37 262.0 181.7)"/><ellipse cx="253.0" cy="182.9" rx="2.2" ry="0.9" fill="#d6403c" fill-opacity="0.85" transform="rotate(33 253.0 182.9)"/><ellipse cx="212.3" cy="181.7" rx="3.2" ry="1.3" fill="#e25a3e" fill-opacity="0.85" transform="rotate(42 212.3 181.7)"/><ellipse cx="231.1" cy="181.2" rx="3.2" ry="1.2" fill="#e25a3e" fill-opacity="0.85" transform="rotate(43 231.1 181.2)"/><ellipse cx="236.8" cy="181.4" rx="3.2" ry="1.1" fill="#d23e46" fill-opacity="0.85" transform="rotate(34 236.8 181.4)"/><ellipse cx="213.5" cy="183.1" rx="2.7" ry="1.0" fill="#de503c" fill-opacity="0.84" transform="rotate(41 213.5 183.1)"/><ellipse cx="213.3" cy="182.3" rx="3.6" ry="1.1" fill="#e25a3e" fill-opacity="0.84" transform="rotate(39 213.3 182.3)"/><ellipse cx="215.9" cy="182.6" rx="2.2" ry="1.0" fill="#da483e" fill-opacity="0.84" transform="rotate(35 215.9 182.6)"/><ellipse cx="258.0" cy="183.8" rx="3.3" ry="1.1" fill="#d6403c" fill-opacity="0.84" transform="rotate(42 258.0 183.8)"/><ellipse cx="259.0" cy="183.7" rx="3.0" ry="1.0" fill="#d6403c" fill-opacity="0.84" transform="rotate(43 259.0 183.7)"/><ellipse cx="234.0" cy="183.7" rx="3.2" ry="1.0" fill="#d6403c" fill-opacity="0.84" transform="rotate(35 234.0 183.7)"/><ellipse cx="219.8" cy="183.9" rx="3.2" ry="1.0" fill="#d6403c" fill-opacity="0.84" transform="rotate(35 219.8 183.9)"/><ellipse cx="224.5" cy="184.7" rx="2.3" ry="1.0" fill="#d6403c" fill-opacity="0.84" transform="rotate(43 224.5 184.7)"/><ellipse cx="218.4" cy="184.0" rx="3.3" ry="1.2" fill="#d6403c" fill-opacity="0.84" transform="rotate(42 218.4 184.0)"/><ellipse cx="220.9" cy="184.7" rx="3.9" ry="1.1" fill="#da483e" fill-opacity="0.84" transform="rotate(35 220.9 184.7)"/><ellipse cx="213.4" cy="185.5" rx="3.1" ry="1.1" fill="#da483e" fill-opacity="0.84" transform="rotate(36 213.4 185.5)"/><ellipse cx="233.5" cy="185.6" rx="3.1" ry="0.9" fill="#d23e46" fill-opacity="0.84" transform="rotate(37 233.5 185.6)"/><ellipse cx="240.2" cy="184.3" rx="2.7" ry="1.0" fill="#d6403c" fill-opacity="0.84" transform="rotate(33 240.2 184.3)"/><ellipse cx="248.5" cy="186.5" rx="2.0" ry="1.2" fill="#d23e46" fill-opacity="0.83" transform="rotate(34 248.5 186.5)"/><ellipse cx="221.0" cy="185.1" rx="2.9" ry="1.0" fill="#d23e46" fill-opacity="0.83" transform="rotate(42 221.0 185.1)"/><ellipse cx="225.1" cy="186.3" rx="2.8" ry="1.2" fill="#e25a3e" fill-opacity="0.83" transform="rotate(34 225.1 186.3)"/><ellipse cx="224.3" cy="185.4" rx="3.0" ry="1.0" fill="#d6403c" fill-opacity="0.83" transform="rotate(39 224.3 185.4)"/><ellipse cx="229.0" cy="186.9" rx="2.8" ry="1.0" fill="#d23e46" fill-opacity="0.83" transform="rotate(42 229.0 186.9)"/><ellipse cx="255.6" cy="187.2" rx="2.9" ry="1.1" fill="#d6403c" fill-opacity="0.83" transform="rotate(37 255.6 187.2)"/><ellipse cx="238.0" cy="187.1" rx="2.7" ry="0.9" fill="#d23e46" fill-opacity="0.83" transform="rotate(33 238.0 187.1)"/><ellipse cx="239.3" cy="187.9" rx="2.7" ry="1.1" fill="#e25a3e" fill-opacity="0.83" transform="rotate(42 239.3 187.9)"/><ellipse cx="240.4" cy="187.0" rx="2.5" ry="1.2" fill="#d6403c" fill-opacity="0.83" transform="rotate(33 240.4 187.0)"/><ellipse cx="234.6" cy="187.2" rx="2.6" ry="1.1" fill="#da483e" fill-opacity="0.83" transform="rotate(38 234.6 187.2)"/><ellipse cx="218.1" cy="188.1" rx="2.6" ry="1.3" fill="#de503c" fill-opacity="0.83" transform="rotate(37 218.1 188.1)"/><ellipse cx="241.5" cy="188.2" rx="2.7" ry="0.9" fill="#d23e46" fill-opacity="0.83" transform="rotate(37 241.5 188.2)"/><ellipse cx="247.7" cy="188.7" rx="3.3" ry="1.0" fill="#d23e46" fill-opacity="0.83" transform="rotate(39 247.7 188.7)"/><ellipse cx="237.4" cy="188.9" rx="2.9" ry="1.1" fill="#cc384c" fill-opacity="0.83" transform="rotate(36 237.4 188.9)"/><ellipse cx="220.2" cy="187.6" rx="2.6" ry="1.0" fill="#de503c" fill-opacity="0.83" transform="rotate(37 220.2 187.6)"/><ellipse cx="252.5" cy="189.8" rx="2.5" ry="1.0" fill="#d23e46" fill-opacity="0.82" transform="rotate(40 252.5 189.8)"/><ellipse cx="243.1" cy="189.6" rx="1.8" ry="0.8" fill="#d6403c" fill-opacity="0.82" transform="rotate(35 243.1 189.6)"/><ellipse cx="225.4" cy="188.6" rx="2.4" ry="1.2" fill="#d23e46" fill-opacity="0.82" transform="rotate(38 225.4 188.6)"/><ellipse cx="214.8" cy="189.2" rx="3.0" ry="1.2" fill="#cc384c" fill-opacity="0.82" transform="rotate(43 214.8 189.2)"/><ellipse cx="225.4" cy="188.5" rx="2.3" ry="1.2" fill="#e25a3e" fill-opacity="0.82" transform="rotate(39 225.4 188.5)"/><ellipse cx="239.0" cy="189.7" rx="2.8" ry="1.2" fill="#d23e46" fill-opacity="0.82" transform="rotate(32 239.0 189.7)"/><ellipse cx="222.0" cy="190.0" rx="2.6" ry="0.9" fill="#da483e" fill-opacity="0.82" transform="rotate(42 222.0 190.0)"/><ellipse cx="227.3" cy="189.7" rx="2.8" ry="0.9" fill="#cc384c" fill-opacity="0.82" transform="rotate(32 227.3 189.7)"/><ellipse cx="213.9" cy="190.7" rx="2.1" ry="1.0" fill="#d6403c" fill-opacity="0.82" transform="rotate(41 213.9 190.7)"/><ellipse cx="261.9" cy="191.4" rx="2.9" ry="1.0" fill="#cc384c" fill-opacity="0.81" transform="rotate(34 261.9 191.4)"/><ellipse cx="254.6" cy="191.6" rx="2.9" ry="1.2" fill="#e25a3e" fill-opacity="0.81" transform="rotate(38 254.6 191.6)"/><ellipse cx="247.3" cy="191.8" rx="2.7" ry="1.1" fill="#de503c" fill-opacity="0.81" transform="rotate(39 247.3 191.8)"/><ellipse cx="231.1" cy="192.0" rx="2.7" ry="1.1" fill="#de503c" fill-opacity="0.81" transform="rotate(33 231.1 192.0)"/><ellipse cx="246.5" cy="190.6" rx="2.3" ry="1.1" fill="#d6403c" fill-opacity="0.81" transform="rotate(40 246.5 190.6)"/><ellipse cx="254.6" cy="192.0" rx="2.1" ry="0.9" fill="#cc384c" fill-opacity="0.81" transform="rotate(39 254.6 192.0)"/><ellipse cx="222.5" cy="192.6" rx="2.9" ry="1.0" fill="#de503c" fill-opacity="0.81" transform="rotate(36 222.5 192.6)"/><ellipse cx="256.8" cy="192.9" rx="1.9" ry="1.1" fill="#d23e46" fill-opacity="0.81" transform="rotate(38 256.8 192.9)"/><ellipse cx="238.5" cy="193.0" rx="2.6" ry="1.0" fill="#cc384c" fill-opacity="0.81" transform="rotate(36 238.5 193.0)"/><ellipse cx="245.6" cy="191.9" rx="1.7" ry="1.0" fill="#e25a3e" fill-opacity="0.81" transform="rotate(38 245.6 191.9)"/><ellipse cx="240.3" cy="193.8" rx="2.9" ry="1.1" fill="#d23e46" fill-opacity="0.80" transform="rotate(44 240.3 193.8)"/><ellipse cx="246.4" cy="193.5" rx="2.0" ry="0.9" fill="#da483e" fill-opacity="0.80" transform="rotate(36 246.4 193.5)"/><ellipse cx="216.2" cy="193.8" rx="3.0" ry="1.3" fill="#da483e" fill-opacity="0.80" transform="rotate(37 216.2 193.8)"/><ellipse cx="237.7" cy="193.6" rx="2.7" ry="0.9" fill="#d6403c" fill-opacity="0.80" transform="rotate(39 237.7 193.6)"/><ellipse cx="228.8" cy="194.0" rx="2.1" ry="1.1" fill="#e25a3e" fill-opacity="0.80" transform="rotate(36 228.8 194.0)"/><ellipse cx="258.1" cy="193.8" rx="1.6" ry="0.8" fill="#cc384c" fill-opacity="0.80" transform="rotate(41 258.1 193.8)"/><ellipse cx="224.3" cy="194.3" rx="3.1" ry="1.0" fill="#da483e" fill-opacity="0.80" transform="rotate(33 224.3 194.3)"/><ellipse cx="237.4" cy="194.0" rx="1.6" ry="1.1" fill="#de503c" fill-opacity="0.80" transform="rotate(38 237.4 194.0)"/><ellipse cx="252.4" cy="193.1" rx="2.4" ry="1.1" fill="#da483e" fill-opacity="0.80" transform="rotate(36 252.4 193.1)"/><ellipse cx="212.2" cy="194.3" rx="3.3" ry="0.9" fill="#d6403c" fill-opacity="0.80" transform="rotate(39 212.2 194.3)"/><ellipse cx="256.8" cy="195.2" rx="2.7" ry="1.0" fill="#cc384c" fill-opacity="0.80" transform="rotate(33 256.8 195.2)"/><ellipse cx="254.9" cy="194.6" rx="3.1" ry="1.0" fill="#de503c" fill-opacity="0.80" transform="rotate(44 254.9 194.6)"/><ellipse cx="261.4" cy="194.1" rx="2.8" ry="1.0" fill="#e25a3e" fill-opacity="0.80" transform="rotate(37 261.4 194.1)"/><ellipse cx="235.6" cy="195.6" rx="1.9" ry="0.9" fill="#d23e46" fill-opacity="0.80" transform="rotate(44 235.6 195.6)"/><ellipse cx="229.3" cy="195.7" rx="2.5" ry="1.2" fill="#d23e46" fill-opacity="0.79" transform="rotate(37 229.3 195.7)"/><ellipse cx="239.2" cy="195.8" rx="2.2" ry="0.9" fill="#da483e" fill-opacity="0.79" transform="rotate(32 239.2 195.8)"/><ellipse cx="223.0" cy="195.3" rx="2.2" ry="1.1" fill="#da483e" fill-opacity="0.79" transform="rotate(38 223.0 195.3)"/><ellipse cx="218.7" cy="195.7" rx="2.4" ry="1.0" fill="#cc384c" fill-opacity="0.79" transform="rotate(43 218.7 195.7)"/><ellipse cx="221.1" cy="196.7" rx="3.0" ry="1.1" fill="#d23e46" fill-opacity="0.79" transform="rotate(37 221.1 196.7)"/><ellipse cx="231.5" cy="197.0" rx="2.4" ry="0.9" fill="#e25a3e" fill-opacity="0.79" transform="rotate(42 231.5 197.0)"/><ellipse cx="250.6" cy="196.8" rx="2.5" ry="1.0" fill="#da483e" fill-opacity="0.79" transform="rotate(33 250.6 196.8)"/><ellipse cx="250.8" cy="196.5" rx="2.6" ry="1.1" fill="#d23e46" fill-opacity="0.79" transform="rotate(42 250.8 196.5)"/><ellipse cx="220.5" cy="197.4" rx="1.8" ry="1.0" fill="#de503c" fill-opacity="0.79" transform="rotate(36 220.5 197.4)"/><ellipse cx="250.7" cy="197.8" rx="2.2" ry="0.8" fill="#e25a3e" fill-opacity="0.79" transform="rotate(40 250.7 197.8)"/><ellipse cx="257.1" cy="197.1" rx="2.4" ry="1.0" fill="#d6403c" fill-opacity="0.78" transform="rotate(43 257.1 197.1)"/><ellipse cx="219.9" cy="197.2" rx="2.9" ry="0.9" fill="#da483e" fill-opacity="0.78" transform="rotate(32 219.9 197.2)"/><ellipse cx="232.8" cy="198.5" rx="2.4" ry="1.1" fill="#cc384c" fill-opacity="0.78" transform="rotate(43 232.8 198.5)"/><ellipse cx="254.1" cy="198.1" rx="2.2" ry="1.1" fill="#d6403c" fill-opacity="0.78" transform="rotate(36 254.1 198.1)"/><ellipse cx="216.3" cy="198.5" rx="2.9" ry="1.1" fill="#da483e" fill-opacity="0.78" transform="rotate(40 216.3 198.5)"/><ellipse cx="212.4" cy="198.6" rx="2.3" ry="1.0" fill="#e25a3e" fill-opacity="0.78" transform="rotate(41 212.4 198.6)"/><ellipse cx="242.4" cy="198.4" rx="2.1" ry="1.0" fill="#cc384c" fill-opacity="0.78" transform="rotate(36 242.4 198.4)"/><ellipse cx="248.9" cy="199.7" rx="2.3" ry="1.0" fill="#cc384c" fill-opacity="0.78" transform="rotate(37 248.9 199.7)"/><ellipse cx="254.5" cy="199.6" rx="1.9" ry="1.2" fill="#da483e" fill-opacity="0.78" transform="rotate(39 254.5 199.6)"/><ellipse cx="238.9" cy="199.9" rx="2.4" ry="0.8" fill="#de503c" fill-opacity="0.78" transform="rotate(36 238.9 199.9)"/><ellipse cx="243.5" cy="199.3" rx="2.3" ry="1.1" fill="#e25a3e" fill-opacity="0.77" transform="rotate(32 243.5 199.3)"/><ellipse cx="233.6" cy="200.9" rx="1.9" ry="0.9" fill="#d23e46" fill-opacity="0.77" transform="rotate(39 233.6 200.9)"/><ellipse cx="243.2" cy="199.2" rx="2.7" ry="0.9" fill="#de503c" fill-opacity="0.77" transform="rotate(44 243.2 199.2)"/><ellipse cx="253.7" cy="199.2" rx="2.0" ry="0.8" fill="#da483e" fill-opacity="0.77" transform="rotate(35 253.7 199.2)"/><ellipse cx="216.2" cy="199.6" rx="2.1" ry="1.0" fill="#cc384c" fill-opacity="0.77" transform="rotate(35 216.2 199.6)"/><ellipse cx="211.0" cy="202.0" rx="1.8" ry="1.2" fill="#d6403c" fill-opacity="0.77" transform="rotate(39 211.0 202.0)"/><ellipse cx="244.0" cy="201.9" rx="2.6" ry="0.9" fill="#d23e46" fill-opacity="0.77" transform="rotate(33 244.0 201.9)"/><ellipse cx="243.1" cy="201.9" rx="2.0" ry="0.8" fill="#de503c" fill-opacity="0.77" transform="rotate(32 243.1 201.9)"/><ellipse cx="254.1" cy="200.6" rx="2.2" ry="1.2" fill="#e25a3e" fill-opacity="0.77" transform="rotate(34 254.1 200.6)"/><ellipse cx="253.6" cy="201.5" rx="1.7" ry="1.0" fill="#cc384c" fill-opacity="0.77" transform="rotate(36 253.6 201.5)"/><ellipse cx="254.0" cy="201.5" rx="1.5" ry="1.2" fill="#de503c" fill-opacity="0.76" transform="rotate(44 254.0 201.5)"/><ellipse cx="257.5" cy="202.9" rx="2.2" ry="0.9" fill="#d6403c" fill-opacity="0.76" transform="rotate(39 257.5 202.9)"/><ellipse cx="217.8" cy="201.5" rx="2.2" ry="1.2" fill="#de503c" fill-opacity="0.76" transform="rotate(42 217.8 201.5)"/><ellipse cx="220.4" cy="202.4" rx="2.4" ry="1.1" fill="#d23e46" fill-opacity="0.76" transform="rotate(37 220.4 202.4)"/><ellipse cx="214.2" cy="201.1" rx="2.8" ry="0.8" fill="#da483e" fill-opacity="0.76" transform="rotate(43 214.2 201.1)"/><ellipse cx="257.5" cy="201.3" rx="2.0" ry="0.9" fill="#d6403c" fill-opacity="0.76" transform="rotate(34 257.5 201.3)"/><ellipse cx="237.3" cy="202.9" rx="2.3" ry="0.9" fill="#d6403c" fill-opacity="0.76" transform="rotate(39 237.3 202.9)"/><ellipse cx="252.6" cy="202.1" rx="2.4" ry="1.0" fill="#de503c" fill-opacity="0.76" transform="rotate(43 252.6 202.1)"/><ellipse cx="244.6" cy="202.3" rx="2.3" ry="1.1" fill="#e25a3e" fill-opacity="0.76" transform="rotate(35 244.6 202.3)"/><ellipse cx="233.7" cy="202.2" rx="2.1" ry="1.0" fill="#cc384c" fill-opacity="0.76" transform="rotate(38 233.7 202.2)"/><ellipse cx="233.4" cy="202.5" rx="2.6" ry="1.1" fill="#d23e46" fill-opacity="0.76" transform="rotate(35 233.4 202.5)"/><ellipse cx="241.0" cy="203.2" rx="1.5" ry="1.1" fill="#e25a3e" fill-opacity="0.76" transform="rotate(39 241.0 203.2)"/><ellipse cx="254.1" cy="204.9" rx="2.7" ry="1.0" fill="#cc384c" fill-opacity="0.76" transform="rotate(40 254.1 204.9)"/><ellipse cx="219.4" cy="204.9" rx="2.5" ry="1.1" fill="#da483e" fill-opacity="0.76" transform="rotate(33 219.4 204.9)"/><ellipse cx="212.9" cy="203.1" rx="2.8" ry="0.8" fill="#d6403c" fill-opacity="0.76" transform="rotate(34 212.9 203.1)"/><ellipse cx="211.1" cy="204.5" rx="2.0" ry="0.9" fill="#cc384c" fill-opacity="0.75" transform="rotate(38 211.1 204.5)"/><ellipse cx="258.9" cy="205.7" rx="2.6" ry="0.9" fill="#d23e46" fill-opacity="0.75" transform="rotate(44 258.9 205.7)"/><ellipse cx="259.8" cy="204.0" rx="1.6" ry="1.1" fill="#d6403c" fill-opacity="0.75" transform="rotate(42 259.8 204.0)"/><ellipse cx="214.3" cy="205.2" rx="2.2" ry="1.2" fill="#de503c" fill-opacity="0.75" transform="rotate(40 214.3 205.2)"/><ellipse cx="255.8" cy="206.2" rx="1.7" ry="1.1" fill="#d6403c" fill-opacity="0.75" transform="rotate(39 255.8 206.2)"/><ellipse cx="213.8" cy="207.0" rx="2.1" ry="0.8" fill="#cc384c" fill-opacity="0.75" transform="rotate(40 213.8 207.0)"/><ellipse cx="257.4" cy="205.2" rx="1.8" ry="0.8" fill="#da483e" fill-opacity="0.75" transform="rotate(42 257.4 205.2)"/><ellipse cx="255.8" cy="206.9" rx="1.8" ry="1.1" fill="#e25a3e" fill-opacity="0.75" transform="rotate(38 255.8 206.9)"/><ellipse cx="255.8" cy="207.4" rx="2.2" ry="1.1" fill="#cc384c" fill-opacity="0.74" transform="rotate(41 255.8 207.4)"/><ellipse cx="259.2" cy="206.7" rx="2.2" ry="0.8" fill="#de503c" fill-opacity="0.74" transform="rotate(39 259.2 206.7)"/><ellipse cx="229.0" cy="207.5" rx="2.5" ry="0.9" fill="#d23e46" fill-opacity="0.74" transform="rotate(43 229.0 207.5)"/><ellipse cx="249.9" cy="208.3" rx="1.3" ry="0.9" fill="#d23e46" fill-opacity="0.74" transform="rotate(43 249.9 208.3)"/><ellipse cx="217.6" cy="207.4" rx="2.5" ry="1.1" fill="#d23e46" fill-opacity="0.74" transform="rotate(35 217.6 207.4)"/><ellipse cx="255.6" cy="207.1" rx="2.1" ry="0.8" fill="#d6403c" fill-opacity="0.74" transform="rotate(42 255.6 207.1)"/><ellipse cx="215.0" cy="208.2" rx="2.7" ry="1.1" fill="#d6403c" fill-opacity="0.74" transform="rotate(42 215.0 208.2)"/><ellipse cx="258.6" cy="208.1" rx="1.5" ry="1.1" fill="#d6403c" fill-opacity="0.74" transform="rotate(36 258.6 208.1)"/><ellipse cx="261.5" cy="209.1" rx="2.0" ry="1.0" fill="#e25a3e" fill-opacity="0.73" transform="rotate(32 261.5 209.1)"/><ellipse cx="239.5" cy="208.2" rx="2.6" ry="1.0" fill="#d6403c" fill-opacity="0.73" transform="rotate(37 239.5 208.2)"/><ellipse cx="257.9" cy="210.8" rx="1.5" ry="0.8" fill="#d6403c" fill-opacity="0.73" transform="rotate(40 257.9 210.8)"/><ellipse cx="213.9" cy="210.3" rx="2.4" ry="1.0" fill="#de503c" fill-opacity="0.73" transform="rotate(37 213.9 210.3)"/><ellipse cx="259.6" cy="210.3" rx="1.5" ry="0.9" fill="#da483e" fill-opacity="0.73" transform="rotate(35 259.6 210.3)"/><ellipse cx="227.4" cy="209.9" rx="2.4" ry="1.2" fill="#de503c" fill-opacity="0.73" transform="rotate(41 227.4 209.9)"/><ellipse cx="255.7" cy="209.5" rx="2.4" ry="0.9" fill="#da483e" fill-opacity="0.73" transform="rotate(38 255.7 209.5)"/><ellipse cx="250.7" cy="210.9" rx="1.4" ry="1.0" fill="#da483e" fill-opacity="0.72" transform="rotate(42 250.7 210.9)"/><ellipse cx="210.9" cy="211.8" rx="2.1" ry="0.8" fill="#d6403c" fill-opacity="0.72" transform="rotate(40 210.9 211.8)"/><ellipse cx="216.2" cy="211.9" rx="2.0" ry="0.8" fill="#e25a3e" fill-opacity="0.72" transform="rotate(38 216.2 211.9)"/><ellipse cx="224.6" cy="211.4" rx="1.2" ry="0.9" fill="#cc384c" fill-opacity="0.72" transform="rotate(37 224.6 211.4)"/><ellipse cx="231.2" cy="211.6" rx="2.4" ry="0.9" fill="#da483e" fill-opacity="0.72" transform="rotate(37 231.2 211.6)"/><ellipse cx="215.0" cy="212.2" rx="2.1" ry="1.0" fill="#de503c" fill-opacity="0.72" transform="rotate(40 215.0 212.2)"/><ellipse cx="226.9" cy="213.9" rx="2.1" ry="0.9" fill="#de503c" fill-opacity="0.71" transform="rotate(39 226.9 213.9)"/><ellipse cx="222.6" cy="213.3" rx="1.6" ry="0.9" fill="#cc384c" fill-opacity="0.71" transform="rotate(38 222.6 213.3)"/><ellipse cx="244.7" cy="213.7" rx="2.2" ry="1.1" fill="#d23e46" fill-opacity="0.71" transform="rotate(41 244.7 213.7)"/><ellipse cx="257.7" cy="212.9" rx="1.8" ry="0.8" fill="#cc384c" fill-opacity="0.71" transform="rotate(34 257.7 212.9)"/><ellipse cx="253.5" cy="213.8" rx="1.2" ry="1.1" fill="#d6403c" fill-opacity="0.71" transform="rotate(42 253.5 213.8)"/><ellipse cx="247.0" cy="213.8" rx="2.0" ry="0.8" fill="#d23e46" fill-opacity="0.71" transform="rotate(40 247.0 213.8)"/><ellipse cx="231.0" cy="215.0" rx="1.7" ry="1.1" fill="#da483e" fill-opacity="0.71" transform="rotate(41 231.0 215.0)"/><ellipse cx="210.8" cy="213.3" rx="2.0" ry="0.9" fill="#d23e46" fill-opacity="0.71" transform="rotate(42 210.8 213.3)"/><ellipse cx="211.4" cy="213.4" rx="1.1" ry="1.0" fill="#d23e46" fill-opacity="0.71" transform="rotate(35 211.4 213.4)"/><ellipse cx="223.7" cy="213.5" rx="1.8" ry="0.7" fill="#d23e46" fill-opacity="0.71" transform="rotate(34 223.7 213.5)"/><ellipse cx="242.6" cy="213.7" rx="1.6" ry="1.0" fill="#de503c" fill-opacity="0.71" transform="rotate(36 242.6 213.7)"/></g>
<rect x="216" y="200.8" width="39.3" height="2.4" fill="#000"/>
<rect x="213.4" y="85.5" width="46.2" height="0.8" fill="#120830" opacity="0.7"/>
</g>
<rect x="212.95" y="12.7" width="46.65" height="201.4" rx="1.5" fill="none" stroke="#82dc5c" stroke-width="1.45"/>
<text class="a" x="236.3" y="21.8" font-size="7.9" text-anchor="middle">2.5 km/s</text>
<text class="a" x="236.3" y="32.5" font-size="7.9" text-anchor="middle">30 GPa</text>
<text class="a" x="236.2" y="211.5" font-size="7.8" text-anchor="middle" style="fill:#000">50 nm</text>
<g stroke="#fff" fill="none" stroke-width="1.2">
<circle cx="16.5" cy="205.8" r="2.9"/>
<path d="M14.6,203.9 L18.4,207.7 M18.4,203.9 L14.6,207.7" stroke-width="0.9"/>
<path d="M16.5,202.8 L16.5,193.5 M19.5,205.8 L29,205.8"/>
</g>
<path d="M16.5,188.3 L18.7,195.3 L14.3,195.3 Z" fill="#fff"/>
<path d="M35.1,205.8 L28.1,203.6 L28.1,208 Z" fill="#fff"/>
<text class="a" x="16.6" y="185.7" font-size="9" text-anchor="middle" style="fill:#fff;stroke:#fff;stroke-width:0.2">z</text>
<text class="a" x="38.7" y="208.1" font-size="9" text-anchor="middle" style="fill:#fff;stroke:#fff;stroke-width:0.2">x</text>
<text class="a" x="9.2" y="207.6" font-size="9" text-anchor="middle" style="fill:#fff;stroke:#fff;stroke-width:0.2">y</text>
<rect x="97.2" y="221.4" width="66.6" height="8.2" fill="url(#mg)"/>
<text class="a" x="95.8" y="227.5" font-size="5" text-anchor="end">-40</text>
<text class="a" x="166" y="227.5" font-size="5.5">160+</text>
<text class="a" x="106.5" y="239.6" font-size="9">U<tspan font-size="4.9" dy="0.9" dx="0.2">intra</tspan><tspan font-size="7.8" dy="-0.9" dx="0.1"> (kJ/mol)</tspan></text>
<g>
<path d="M328.50,204.50 L329.50,150.00 L330.30,98.00 L331.20,60.00 L333.30,40.20 L335.00,60.00 L335.80,98.00 L336.70,135.00 L337.50,170.00 L338.50,204.50 Z" fill="#000000" fill-opacity="0.16" stroke="none"/>
<path d="M327.80,204.50 L329.50,140.00 L331.30,98.00 L332.60,70.00 L334.90,52.40 L336.30,60.00 L336.90,67.00 L336.90,67.00 C337.13,71.50 337.78,86.72 338.30,94.00 C338.82,101.28 339.17,105.98 340.00,110.70 C340.83,115.42 342.47,118.58 343.30,122.30 C344.13,126.02 344.30,128.60 345.00,133.00 C345.70,137.40 346.75,143.20 347.50,148.70 C348.25,154.20 348.92,159.95 349.50,166.00 C350.08,172.05 350.52,178.58 351.00,185.00 C351.48,191.42 352.17,201.25 352.40,204.50 Z" fill="#54278f" fill-opacity="0.27" stroke="none"/>
<path d="M327.30,204.50 C327.58,195.42 328.47,165.75 329.00,150.00 C329.53,134.25 330.00,119.00 330.50,110.00 C331.00,101.00 331.38,99.03 332.00,96.00 C332.62,92.97 333.45,93.13 334.20,91.80 C334.95,90.47 335.78,90.30 336.50,88.00 C337.22,85.70 337.78,80.88 338.50,78.00 C339.22,75.12 340.13,71.37 340.80,70.70 C341.47,70.03 341.97,72.12 342.50,74.00 C343.03,75.88 343.45,78.67 344.00,82.00 C344.55,85.33 345.22,89.22 345.80,94.00 C346.38,98.78 346.52,105.98 347.50,110.70 C348.48,115.42 350.28,119.42 351.70,122.30 C353.12,125.18 354.78,126.05 356.00,128.00 C357.22,129.95 357.92,130.55 359.00,134.00 C360.08,137.45 361.45,143.37 362.50,148.70 C363.55,154.03 364.63,159.95 365.30,166.00 C365.97,172.05 366.13,178.58 366.50,185.00 C366.87,191.42 367.33,201.25 367.50,204.50 Z" fill="#ae2a7e" fill-opacity="0.27" stroke="none"/>
<path d="M326.80,204.50 C327.08,195.42 327.97,163.25 328.50,150.00 C329.03,136.75 329.33,130.50 330.00,125.00 C330.67,119.50 331.72,118.70 332.50,117.00 C333.28,115.30 334.12,114.30 334.70,114.80 C335.28,115.30 335.53,117.13 336.00,120.00 C336.47,122.87 336.83,127.22 337.50,132.00 C338.17,136.78 339.30,144.95 340.00,148.70 C340.70,152.45 341.20,153.95 341.70,154.50 C342.20,155.05 342.58,153.53 343.00,152.00 C343.42,150.47 343.58,148.63 344.20,145.30 C344.82,141.97 346.07,137.77 346.70,132.00 C347.33,126.23 347.40,116.70 348.00,110.70 C348.60,104.70 349.63,99.62 350.30,96.00 C350.97,92.38 351.43,90.53 352.00,89.00 C352.57,87.47 353.12,86.80 353.70,86.80 C354.28,86.80 354.87,87.63 355.50,89.00 C356.13,90.37 356.75,92.50 357.50,95.00 C358.25,97.50 358.75,100.83 360.00,104.00 C361.25,107.17 363.05,111.50 365.00,114.00 C366.95,116.50 370.20,118.03 371.70,119.00 C373.20,119.97 372.92,119.10 374.00,119.80 C375.08,120.50 376.95,121.38 378.20,123.20 C379.45,125.02 380.67,128.62 381.50,130.70 C382.33,132.78 382.37,132.70 383.20,135.70 C384.03,138.70 385.45,143.65 386.50,148.70 C387.55,153.75 388.70,159.95 389.50,166.00 C390.30,172.05 390.77,178.58 391.30,185.00 C391.83,191.42 392.47,201.25 392.70,204.50 Z" fill="#fc8d62" fill-opacity="0.27" stroke="none"/>
<path d="M326.40,204.50 C326.67,198.75 327.40,177.75 328.00,170.00 C328.60,162.25 329.25,160.83 330.00,158.00 C330.75,155.17 331.80,154.13 332.50,153.00 C333.20,151.87 333.50,150.53 334.20,151.20 C334.90,151.87 336.02,153.87 336.70,157.00 C337.38,160.13 337.62,165.95 338.30,170.00 C338.98,174.05 339.97,178.43 340.80,181.30 C341.63,184.17 342.52,186.00 343.30,187.20 C344.08,188.40 344.80,188.08 345.50,188.50 C346.20,188.92 346.83,189.78 347.50,189.70 C348.17,189.62 348.80,188.15 349.50,188.00 C350.20,187.85 350.65,189.92 351.70,188.80 C352.75,187.68 354.55,184.77 355.80,181.30 C357.05,177.83 357.95,173.43 359.20,168.00 C360.45,162.57 362.05,154.70 363.30,148.70 C364.55,142.70 365.75,136.12 366.70,132.00 C367.65,127.88 368.17,126.00 369.00,124.00 C369.83,122.00 370.87,120.97 371.70,120.00 C372.53,119.03 371.95,119.07 374.00,118.20 C376.05,117.33 380.95,116.33 384.00,114.80 C387.05,113.27 389.80,110.58 392.30,109.00 C394.80,107.42 397.18,106.00 399.00,105.30 C400.82,104.60 401.82,104.32 403.20,104.80 C404.58,105.28 406.05,106.38 407.30,108.20 C408.55,110.02 409.58,112.52 410.70,115.70 C411.82,118.88 413.17,123.97 414.00,127.30 C414.83,130.63 415.00,132.13 415.70,135.70 C416.40,139.27 417.37,143.65 418.20,148.70 C419.03,153.75 419.90,159.95 420.70,166.00 C421.50,172.05 422.17,178.58 423.00,185.00 C423.83,191.42 425.25,201.25 425.70,204.50 Z" fill="#fdbc7c" fill-opacity="0.27" stroke="none"/>
<path d="M328.50,204.50 L329.50,150.00 L330.30,98.00 L331.20,60.00 L333.30,40.20 L335.00,60.00 L335.80,98.00 L336.70,135.00 L337.50,170.00 L338.50,204.50" fill="none" stroke="#000000" stroke-width="1.1" stroke-linejoin="round"/>
<path d="M327.80,204.50 L329.50,140.00 L331.30,98.00 L332.60,70.00 L334.90,52.40 L336.30,60.00 L336.90,67.00 L336.90,67.00 C337.13,71.50 337.78,86.72 338.30,94.00 C338.82,101.28 339.17,105.98 340.00,110.70 C340.83,115.42 342.47,118.58 343.30,122.30 C344.13,126.02 344.30,128.60 345.00,133.00 C345.70,137.40 346.75,143.20 347.50,148.70 C348.25,154.20 348.92,159.95 349.50,166.00 C350.08,172.05 350.52,178.58 351.00,185.00 C351.48,191.42 352.17,201.25 352.40,204.50" fill="none" stroke="#54278f" stroke-width="1.35" stroke-linejoin="round"/>
<path d="M327.30,204.50 C327.58,195.42 328.47,165.75 329.00,150.00 C329.53,134.25 330.00,119.00 330.50,110.00 C331.00,101.00 331.38,99.03 332.00,96.00 C332.62,92.97 333.45,93.13 334.20,91.80 C334.95,90.47 335.78,90.30 336.50,88.00 C337.22,85.70 337.78,80.88 338.50,78.00 C339.22,75.12 340.13,71.37 340.80,70.70 C341.47,70.03 341.97,72.12 342.50,74.00 C343.03,75.88 343.45,78.67 344.00,82.00 C344.55,85.33 345.22,89.22 345.80,94.00 C346.38,98.78 346.52,105.98 347.50,110.70 C348.48,115.42 350.28,119.42 351.70,122.30 C353.12,125.18 354.78,126.05 356.00,128.00 C357.22,129.95 357.92,130.55 359.00,134.00 C360.08,137.45 361.45,143.37 362.50,148.70 C363.55,154.03 364.63,159.95 365.30,166.00 C365.97,172.05 366.13,178.58 366.50,185.00 C366.87,191.42 367.33,201.25 367.50,204.50" fill="none" stroke="#ae2a7e" stroke-width="1.35" stroke-linejoin="round"/>
<path d="M326.80,204.50 C327.08,195.42 327.97,163.25 328.50,150.00 C329.03,136.75 329.33,130.50 330.00,125.00 C330.67,119.50 331.72,118.70 332.50,117.00 C333.28,115.30 334.12,114.30 334.70,114.80 C335.28,115.30 335.53,117.13 336.00,120.00 C336.47,122.87 336.83,127.22 337.50,132.00 C338.17,136.78 339.30,144.95 340.00,148.70 C340.70,152.45 341.20,153.95 341.70,154.50 C342.20,155.05 342.58,153.53 343.00,152.00 C343.42,150.47 343.58,148.63 344.20,145.30 C344.82,141.97 346.07,137.77 346.70,132.00 C347.33,126.23 347.40,116.70 348.00,110.70 C348.60,104.70 349.63,99.62 350.30,96.00 C350.97,92.38 351.43,90.53 352.00,89.00 C352.57,87.47 353.12,86.80 353.70,86.80 C354.28,86.80 354.87,87.63 355.50,89.00 C356.13,90.37 356.75,92.50 357.50,95.00 C358.25,97.50 358.75,100.83 360.00,104.00 C361.25,107.17 363.05,111.50 365.00,114.00 C366.95,116.50 370.20,118.03 371.70,119.00 C373.20,119.97 372.92,119.10 374.00,119.80 C375.08,120.50 376.95,121.38 378.20,123.20 C379.45,125.02 380.67,128.62 381.50,130.70 C382.33,132.78 382.37,132.70 383.20,135.70 C384.03,138.70 385.45,143.65 386.50,148.70 C387.55,153.75 388.70,159.95 389.50,166.00 C390.30,172.05 390.77,178.58 391.30,185.00 C391.83,191.42 392.47,201.25 392.70,204.50" fill="none" stroke="#fc8d62" stroke-width="1.35" stroke-linejoin="round"/>
<path d="M326.40,204.50 C326.67,198.75 327.40,177.75 328.00,170.00 C328.60,162.25 329.25,160.83 330.00,158.00 C330.75,155.17 331.80,154.13 332.50,153.00 C333.20,151.87 333.50,150.53 334.20,151.20 C334.90,151.87 336.02,153.87 336.70,157.00 C337.38,160.13 337.62,165.95 338.30,170.00 C338.98,174.05 339.97,178.43 340.80,181.30 C341.63,184.17 342.52,186.00 343.30,187.20 C344.08,188.40 344.80,188.08 345.50,188.50 C346.20,188.92 346.83,189.78 347.50,189.70 C348.17,189.62 348.80,188.15 349.50,188.00 C350.20,187.85 350.65,189.92 351.70,188.80 C352.75,187.68 354.55,184.77 355.80,181.30 C357.05,177.83 357.95,173.43 359.20,168.00 C360.45,162.57 362.05,154.70 363.30,148.70 C364.55,142.70 365.75,136.12 366.70,132.00 C367.65,127.88 368.17,126.00 369.00,124.00 C369.83,122.00 370.87,120.97 371.70,120.00 C372.53,119.03 371.95,119.07 374.00,118.20 C376.05,117.33 380.95,116.33 384.00,114.80 C387.05,113.27 389.80,110.58 392.30,109.00 C394.80,107.42 397.18,106.00 399.00,105.30 C400.82,104.60 401.82,104.32 403.20,104.80 C404.58,105.28 406.05,106.38 407.30,108.20 C408.55,110.02 409.58,112.52 410.70,115.70 C411.82,118.88 413.17,123.97 414.00,127.30 C414.83,130.63 415.00,132.13 415.70,135.70 C416.40,139.27 417.37,143.65 418.20,148.70 C419.03,153.75 419.90,159.95 420.70,166.00 C421.50,172.05 422.17,178.58 423.00,185.00 C423.83,191.42 425.25,201.25 425.70,204.50" fill="none" stroke="#fdbc7c" stroke-width="1.35" stroke-linejoin="round"/>
</g>
<rect x="313.5" y="20.7" width="125.5" height="183.8" fill="none" stroke="#000" stroke-width="1"/>
<path d="M313.50,204.50 v-3 M313.50,20.70 v3 M334.42,204.50 v-3 M334.42,20.70 v3 M355.33,204.50 v-3 M355.33,20.70 v3 M376.25,204.50 v-3 M376.25,20.70 v3 M397.17,204.50 v-3 M397.17,20.70 v3 M418.08,204.50 v-3 M418.08,20.70 v3 M439.00,204.50 v-3 M439.00,20.70 v3 M313.50,20.70 h3.2 M439.00,20.70 h-3.2 M313.50,63.52 h1.6 M439.00,63.52 h-1.6 M313.50,52.74 h1.6 M439.00,52.74 h-1.6 M313.50,45.08 h1.6 M439.00,45.08 h-1.6 M313.50,39.14 h1.6 M439.00,39.14 h-1.6 M313.50,34.29 h1.6 M439.00,34.29 h-1.6 M313.50,30.19 h1.6 M439.00,30.19 h-1.6 M313.50,26.64 h1.6 M439.00,26.64 h-1.6 M313.50,23.50 h1.6 M439.00,23.50 h-1.6 M313.50,81.97 h3.2 M439.00,81.97 h-3.2 M313.50,124.79 h1.6 M439.00,124.79 h-1.6 M313.50,114.00 h1.6 M439.00,114.00 h-1.6 M313.50,106.35 h1.6 M439.00,106.35 h-1.6 M313.50,100.41 h1.6 M439.00,100.41 h-1.6 M313.50,95.56 h1.6 M439.00,95.56 h-1.6 M313.50,91.46 h1.6 M439.00,91.46 h-1.6 M313.50,87.90 h1.6 M439.00,87.90 h-1.6 M313.50,84.77 h1.6 M439.00,84.77 h-1.6 M313.50,143.23 h3.2 M439.00,143.23 h-3.2 M313.50,186.06 h1.6 M439.00,186.06 h-1.6 M313.50,175.27 h1.6 M439.00,175.27 h-1.6 M313.50,167.61 h1.6 M439.00,167.61 h-1.6 M313.50,161.68 h1.6 M439.00,161.68 h-1.6 M313.50,156.83 h1.6 M439.00,156.83 h-1.6 M313.50,152.72 h1.6 M439.00,152.72 h-1.6 M313.50,149.17 h1.6 M439.00,149.17 h-1.6 M313.50,146.04 h1.6 M439.00,146.04 h-1.6 M313.50,204.50 h3.2 M439.00,204.50 h-3.2" stroke="#000" stroke-width="0.7" fill="none"/>
<text class="d" x="313.5" y="216.2" font-size="8.8" letter-spacing="0.2" text-anchor="middle">-50</text>
<text class="d" x="334.4" y="216.2" font-size="8.8" letter-spacing="0.2" text-anchor="middle">0</text>
<text class="d" x="355.3" y="216.2" font-size="8.8" letter-spacing="0.2" text-anchor="middle">50</text>
<text class="d" x="376.2" y="216.2" font-size="8.8" letter-spacing="0.2" text-anchor="middle">100</text>
<text class="d" x="397.2" y="216.2" font-size="8.8" letter-spacing="0.2" text-anchor="middle">150</text>
<text class="d" x="418.1" y="216.2" font-size="8.8" letter-spacing="0.2" text-anchor="middle">200</text>
<text class="d" x="439.0" y="216.2" font-size="8.8" letter-spacing="0.2" text-anchor="middle">250</text>
<text class="d" x="309.5" y="24.0" font-size="9" letter-spacing="0.25" text-anchor="end">10<tspan font-size="6.8" dy="-3.3">0</tspan></text>
<text class="d" x="309.5" y="85.3" font-size="9" letter-spacing="0.25" text-anchor="end">10<tspan font-size="6.8" dy="-3.3">-1</tspan></text>
<text class="d" x="309.5" y="146.5" font-size="9" letter-spacing="0.25" text-anchor="end">10<tspan font-size="6.8" dy="-3.3">-2</tspan></text>
<text class="d" x="309.5" y="207.8" font-size="9" letter-spacing="0.25" text-anchor="end">10<tspan font-size="6.8" dy="-3.3">-3</tspan></text>
<text class="d" x="334.4" y="229" font-size="12.7">U<tspan font-size="9.3" dy="1.5">intra</tspan><tspan font-size="12.7" dy="-1.5"> (kJ/mol)</tspan></text>
<text class="d" transform="translate(286.9,112.7) rotate(-90)" font-size="12.45" text-anchor="middle">Normalized Population</text>
<text class="d" x="404" y="30.3" font-size="7.05" text-anchor="end">0.5 km/s</text>
<path d="M409,27.70 H430.4" stroke="#000000" stroke-width="1.1"/>
<text class="d" x="404" y="38.7" font-size="7.05" text-anchor="end">1.0 km/s</text>
<path d="M409,36.13 H430.4" stroke="#54278f" stroke-width="1.35"/>
<text class="d" x="404" y="47.2" font-size="7.05" text-anchor="end">1.5 km/s</text>
<path d="M409,44.56 H430.4" stroke="#ae2a7e" stroke-width="1.35"/>
<text class="d" x="404" y="55.6" font-size="7.05" text-anchor="end">2.0 km/s</text>
<path d="M409,52.99 H430.4" stroke="#fc8d62" stroke-width="1.35"/>
<text class="d" x="404" y="64.0" font-size="7.05" text-anchor="end">2.5 km/s</text>
<path d="M409,61.42 H430.4" stroke="#fdbc7c" stroke-width="1.35"/>
</svg></body></html>
